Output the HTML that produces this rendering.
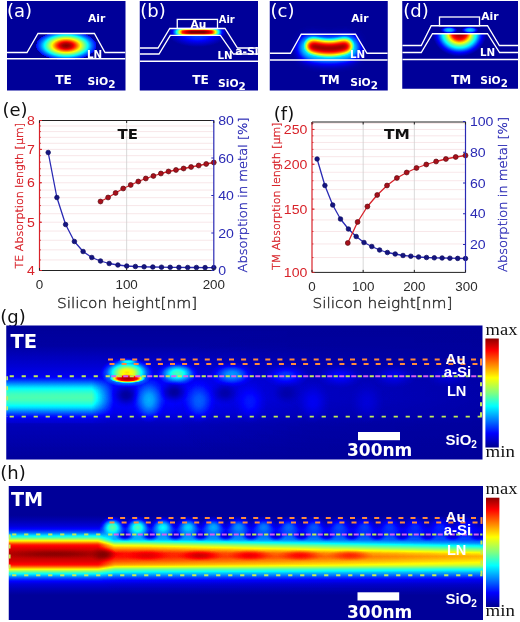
<!DOCTYPE html>
<html lang="en"><head><meta charset="utf-8"><title>Figure</title>
<style>
html,body{margin:0;padding:0;background:#fff;}
body{width:520px;height:622px;overflow:hidden;}
svg{display:block;}
</style></head><body>
<svg width="520" height="622" viewBox="0 0 520 622">
<defs>
<filter id="jet" color-interpolation-filters="sRGB" filterUnits="userSpaceOnUse" x="0" y="0" width="520" height="622">
<feComponentTransfer>
<feFuncR type="table" tableValues="0 0 0 0 0.5 1 1 1 0.5"/>
<feFuncG type="table" tableValues="0 0 0.5 1 1 1 0.5 0 0"/>
<feFuncB type="table" tableValues="0.6 1 1 1 0.5 0 0 0 0"/>
</feComponentTransfer>
</filter>
<clipPath id="cpa"><rect x="7" y="1" width="118.5" height="89.5"/></clipPath>
<clipPath id="cpa2"><path d="M0 52.5 H27 L38 33.5 H94.4 L105 52.5 H130 V100 H0 Z"/></clipPath>
<radialGradient id="ga" gradientUnits="userSpaceOnUse" cx="0" cy="0" r="1" gradientTransform="translate(66.2 45.6) scale(30 14.6)" ><stop offset="0" stop-color="rgb(255,255,255)" stop-opacity="1"/><stop offset="0.12" stop-color="rgb(247,247,247)" stop-opacity="1"/><stop offset="0.22" stop-color="rgb(232,232,232)" stop-opacity="1"/><stop offset="0.33" stop-color="rgb(204,204,204)" stop-opacity="1"/><stop offset="0.48" stop-color="rgb(159,159,159)" stop-opacity="1"/><stop offset="0.6" stop-color="rgb(128,128,128)" stop-opacity="1"/><stop offset="0.72" stop-color="rgb(96,96,96)" stop-opacity="1"/><stop offset="0.855" stop-color="rgb(61,61,61)" stop-opacity="1"/><stop offset="1" stop-color="rgb(33,33,33)" stop-opacity="1"/><stop offset="1.15" stop-color="rgb(13,13,13)" stop-opacity="1"/><stop offset="1.35" stop-color="rgb(0,0,0)" stop-opacity="1"/></radialGradient>
<clipPath id="cpb"><rect x="139.75" y="1" width="118.25" height="89.5"/></clipPath>
<linearGradient id="gb" gradientUnits="userSpaceOnUse" x1="169" y1="0" x2="226" y2="0"><stop offset="0" stop-color="rgb(0,0,0)" stop-opacity="1"/><stop offset="0.0614035" stop-color="rgb(31,31,31)" stop-opacity="1"/><stop offset="0.114035" stop-color="rgb(76,76,76)" stop-opacity="1"/><stop offset="0.166667" stop-color="rgb(133,133,133)" stop-opacity="1"/><stop offset="0.201754" stop-color="rgb(173,173,173)" stop-opacity="1"/><stop offset="0.236842" stop-color="rgb(214,214,214)" stop-opacity="1"/><stop offset="0.298246" stop-color="rgb(237,237,237)" stop-opacity="1"/><stop offset="0.385965" stop-color="rgb(255,255,255)" stop-opacity="1"/><stop offset="0.614035" stop-color="rgb(255,255,255)" stop-opacity="1"/><stop offset="0.692982" stop-color="rgb(240,240,240)" stop-opacity="1"/><stop offset="0.754386" stop-color="rgb(219,219,219)" stop-opacity="1"/><stop offset="0.798246" stop-color="rgb(178,178,178)" stop-opacity="1"/><stop offset="0.833333" stop-color="rgb(140,140,140)" stop-opacity="1"/><stop offset="0.877193" stop-color="rgb(89,89,89)" stop-opacity="1"/><stop offset="0.929825" stop-color="rgb(36,36,36)" stop-opacity="1"/><stop offset="1" stop-color="rgb(0,0,0)" stop-opacity="1"/></linearGradient>
<radialGradient id="gb2" gradientUnits="userSpaceOnUse" cx="0" cy="0" r="1" gradientTransform="translate(197.5 35) scale(29 12)" ><stop offset="0" stop-color="rgb(51,51,51)" stop-opacity="1"/><stop offset="0.4" stop-color="rgb(38,38,38)" stop-opacity="1"/><stop offset="0.75" stop-color="rgb(15,15,15)" stop-opacity="1"/><stop offset="1" stop-color="rgb(0,0,0)" stop-opacity="1"/></radialGradient>
<filter id="blb" color-interpolation-filters="sRGB" filterUnits="userSpaceOnUse" x="130" y="0" width="140" height="100"><feGaussianBlur stdDeviation="0.6 0.9"/></filter>
<clipPath id="cpc"><rect x="269.75" y="1" width="118" height="89.5"/></clipPath>
<filter id="blc" color-interpolation-filters="sRGB" filterUnits="userSpaceOnUse" x="260" y="0" width="140" height="100"><feGaussianBlur stdDeviation="3.6"/></filter>
<clipPath id="cpc2"><path d="M260 53.25 H290.5 L301.25 34.25 H355.5 L367 53.25 H400 V100 H260 Z"/></clipPath>
<filter id="blc0" color-interpolation-filters="sRGB" filterUnits="userSpaceOnUse" x="260" y="0" width="140" height="100"><feGaussianBlur stdDeviation="5"/></filter>
<filter id="blc2" color-interpolation-filters="sRGB" filterUnits="userSpaceOnUse" x="260" y="0" width="140" height="100"><feGaussianBlur stdDeviation="2.2"/></filter>
<clipPath id="cpd"><rect x="402.25" y="1" width="115.75" height="87.75"/></clipPath>
<clipPath id="cpd2"><rect x="402.25" y="34" width="115.75" height="60"/></clipPath>
<radialGradient id="gd" gradientUnits="userSpaceOnUse" cx="0" cy="0" r="1" gradientTransform="translate(459.5 33.5) scale(27 23)" ><stop offset="0" stop-color="rgb(247,247,247)" stop-opacity="1"/><stop offset="0.1" stop-color="rgb(242,242,242)" stop-opacity="1"/><stop offset="0.2" stop-color="rgb(232,232,232)" stop-opacity="1"/><stop offset="0.28" stop-color="rgb(217,217,217)" stop-opacity="1"/><stop offset="0.37" stop-color="rgb(178,178,178)" stop-opacity="1"/><stop offset="0.45" stop-color="rgb(148,148,148)" stop-opacity="1"/><stop offset="0.55" stop-color="rgb(115,115,115)" stop-opacity="1"/><stop offset="0.66" stop-color="rgb(84,84,84)" stop-opacity="1"/><stop offset="0.78" stop-color="rgb(46,46,46)" stop-opacity="1"/><stop offset="0.9" stop-color="rgb(18,18,18)" stop-opacity="1"/><stop offset="1" stop-color="rgb(0,0,0)" stop-opacity="1"/></radialGradient>
<radialGradient id="gds" gradientUnits="userSpaceOnUse" cx="0" cy="0" r="1" gradientTransform="translate(0 0) scale(8.5 3.6)" ><stop offset="0" stop-color="rgb(87,87,87)" stop-opacity="1"/><stop offset="0.5" stop-color="rgb(64,64,64)" stop-opacity="1"/><stop offset="1" stop-color="rgb(0,0,0)" stop-opacity="1"/></radialGradient>
<clipPath id="cpg"><rect x="6.25" y="325.5" width="476.25" height="134"/></clipPath>
<linearGradient id="gg0" gradientUnits="userSpaceOnUse" x1="0" y1="325.5" x2="0" y2="459.5"><stop offset="0" stop-color="rgb(0,0,0)" stop-opacity="1"/><stop offset="0.15" stop-color="rgb(3,3,3)" stop-opacity="1"/><stop offset="0.3" stop-color="rgb(18,18,18)" stop-opacity="1"/><stop offset="0.42" stop-color="rgb(31,31,31)" stop-opacity="1"/><stop offset="0.55" stop-color="rgb(33,33,33)" stop-opacity="1"/><stop offset="0.65" stop-color="rgb(26,26,26)" stop-opacity="1"/><stop offset="0.74" stop-color="rgb(10,10,10)" stop-opacity="1"/><stop offset="1" stop-color="rgb(1,1,1)" stop-opacity="1"/></linearGradient>
<linearGradient id="ggin" gradientUnits="userSpaceOnUse" x1="0" y1="371.3" x2="0" y2="423.3"><stop offset="0" stop-color="rgb(17,17,17)" stop-opacity="1"/><stop offset="0.075" stop-color="rgb(23,23,23)" stop-opacity="1"/><stop offset="0.15" stop-color="rgb(39,39,39)" stop-opacity="1"/><stop offset="0.225" stop-color="rgb(62,62,62)" stop-opacity="1"/><stop offset="0.3" stop-color="rgb(87,87,87)" stop-opacity="1"/><stop offset="0.375" stop-color="rgb(104,104,104)" stop-opacity="1"/><stop offset="0.44" stop-color="rgb(112,112,112)" stop-opacity="1"/><stop offset="0.5" stop-color="rgb(115,115,115)" stop-opacity="1"/><stop offset="0.56" stop-color="rgb(112,112,112)" stop-opacity="1"/><stop offset="0.625" stop-color="rgb(104,104,104)" stop-opacity="1"/><stop offset="0.7" stop-color="rgb(87,87,87)" stop-opacity="1"/><stop offset="0.775" stop-color="rgb(62,62,62)" stop-opacity="1"/><stop offset="0.85" stop-color="rgb(39,39,39)" stop-opacity="1"/><stop offset="0.925" stop-color="rgb(23,23,23)" stop-opacity="1"/><stop offset="1" stop-color="rgb(17,17,17)" stop-opacity="1"/></linearGradient>
<linearGradient id="ggm" gradientUnits="userSpaceOnUse" x1="92" y1="0" x2="114" y2="0"><stop offset="0" stop-color="#fff"/><stop offset="1" stop-color="#000"/></linearGradient>
<linearGradient id="ggat" gradientUnits="userSpaceOnUse" x1="170" y1="0" x2="483" y2="0"><stop offset="0" stop-color="#000" stop-opacity="0"/><stop offset="0.45" stop-color="#000" stop-opacity="0.6"/><stop offset="1" stop-color="#000" stop-opacity="0.85"/></linearGradient>
<mask id="mg" maskUnits="userSpaceOnUse" x="0" y="300" width="520" height="200"><rect x="0" y="300" width="520" height="200" fill="url(#ggm)"/></mask>
<radialGradient id="gk1" gradientUnits="userSpaceOnUse" cx="0" cy="0" r="1" gradientTransform="translate(0 0) scale(15 13)" ><stop offset="0" stop-color="rgb(0,0,0)" stop-opacity="1"/><stop offset="0.25" stop-color="rgb(0,0,0)" stop-opacity="0.88"/><stop offset="0.5" stop-color="rgb(0,0,0)" stop-opacity="0.55"/><stop offset="0.75" stop-color="rgb(0,0,0)" stop-opacity="0.2"/><stop offset="1" stop-color="rgb(0,0,0)" stop-opacity="0"/></radialGradient>
<radialGradient id="gk2" gradientUnits="userSpaceOnUse" cx="0" cy="0" r="1" gradientTransform="translate(0 0) scale(15 12)" ><stop offset="0" stop-color="rgb(0,0,0)" stop-opacity="1"/><stop offset="0.25" stop-color="rgb(0,0,0)" stop-opacity="0.88"/><stop offset="0.5" stop-color="rgb(0,0,0)" stop-opacity="0.55"/><stop offset="0.75" stop-color="rgb(0,0,0)" stop-opacity="0.2"/><stop offset="1" stop-color="rgb(0,0,0)" stop-opacity="0"/></radialGradient>
<radialGradient id="gk3" gradientUnits="userSpaceOnUse" cx="0" cy="0" r="1" gradientTransform="translate(0 0) scale(15 12)" ><stop offset="0" stop-color="rgb(5,5,5)" stop-opacity="1"/><stop offset="0.25" stop-color="rgb(5,5,5)" stop-opacity="0.88"/><stop offset="0.5" stop-color="rgb(5,5,5)" stop-opacity="0.55"/><stop offset="0.75" stop-color="rgb(5,5,5)" stop-opacity="0.2"/><stop offset="1" stop-color="rgb(5,5,5)" stop-opacity="0"/></radialGradient>
<radialGradient id="gk4" gradientUnits="userSpaceOnUse" cx="0" cy="0" r="1" gradientTransform="translate(0 0) scale(15 12)" ><stop offset="0" stop-color="rgb(5,5,5)" stop-opacity="1"/><stop offset="0.25" stop-color="rgb(5,5,5)" stop-opacity="0.88"/><stop offset="0.5" stop-color="rgb(5,5,5)" stop-opacity="0.55"/><stop offset="0.75" stop-color="rgb(5,5,5)" stop-opacity="0.2"/><stop offset="1" stop-color="rgb(5,5,5)" stop-opacity="0"/></radialGradient>
<radialGradient id="gl1" gradientUnits="userSpaceOnUse" cx="0" cy="0" r="1" gradientTransform="translate(0 0) scale(17 23)" ><stop offset="0" stop-color="rgb(76,76,76)" stop-opacity="1"/><stop offset="0.25" stop-color="rgb(76,76,76)" stop-opacity="0.88"/><stop offset="0.5" stop-color="rgb(76,76,76)" stop-opacity="0.55"/><stop offset="0.75" stop-color="rgb(76,76,76)" stop-opacity="0.2"/><stop offset="1" stop-color="rgb(76,76,76)" stop-opacity="0"/></radialGradient>
<radialGradient id="gl2" gradientUnits="userSpaceOnUse" cx="0" cy="0" r="1" gradientTransform="translate(0 0) scale(17 22)" ><stop offset="0" stop-color="rgb(56,56,56)" stop-opacity="1"/><stop offset="0.25" stop-color="rgb(56,56,56)" stop-opacity="0.88"/><stop offset="0.5" stop-color="rgb(56,56,56)" stop-opacity="0.55"/><stop offset="0.75" stop-color="rgb(56,56,56)" stop-opacity="0.2"/><stop offset="1" stop-color="rgb(56,56,56)" stop-opacity="0"/></radialGradient>
<radialGradient id="gl3" gradientUnits="userSpaceOnUse" cx="0" cy="0" r="1" gradientTransform="translate(0 0) scale(17 21)" ><stop offset="0" stop-color="rgb(38,38,38)" stop-opacity="1"/><stop offset="0.25" stop-color="rgb(38,38,38)" stop-opacity="0.88"/><stop offset="0.5" stop-color="rgb(38,38,38)" stop-opacity="0.55"/><stop offset="0.75" stop-color="rgb(38,38,38)" stop-opacity="0.2"/><stop offset="1" stop-color="rgb(38,38,38)" stop-opacity="0"/></radialGradient>
<radialGradient id="gl4" gradientUnits="userSpaceOnUse" cx="0" cy="0" r="1" gradientTransform="translate(0 0) scale(17 21)" ><stop offset="0" stop-color="rgb(28,28,28)" stop-opacity="1"/><stop offset="0.25" stop-color="rgb(28,28,28)" stop-opacity="0.88"/><stop offset="0.5" stop-color="rgb(28,28,28)" stop-opacity="0.55"/><stop offset="0.75" stop-color="rgb(28,28,28)" stop-opacity="0.2"/><stop offset="1" stop-color="rgb(28,28,28)" stop-opacity="0"/></radialGradient>
<radialGradient id="gl5" gradientUnits="userSpaceOnUse" cx="0" cy="0" r="1" gradientTransform="translate(0 0) scale(17 21)" ><stop offset="0" stop-color="rgb(20,20,20)" stop-opacity="1"/><stop offset="0.25" stop-color="rgb(20,20,20)" stop-opacity="0.88"/><stop offset="0.5" stop-color="rgb(20,20,20)" stop-opacity="0.55"/><stop offset="0.75" stop-color="rgb(20,20,20)" stop-opacity="0.2"/><stop offset="1" stop-color="rgb(20,20,20)" stop-opacity="0"/></radialGradient>
<radialGradient id="gh1a" gradientUnits="userSpaceOnUse" cx="0" cy="0" r="1" gradientTransform="translate(0 0) scale(27 15)" ><stop offset="0" stop-color="rgb(168,168,168)" stop-opacity="1"/><stop offset="0.25" stop-color="rgb(168,168,168)" stop-opacity="0.88"/><stop offset="0.5" stop-color="rgb(168,168,168)" stop-opacity="0.55"/><stop offset="0.75" stop-color="rgb(168,168,168)" stop-opacity="0.2"/><stop offset="1" stop-color="rgb(168,168,168)" stop-opacity="0"/></radialGradient>
<radialGradient id="gh1c" gradientUnits="userSpaceOnUse" cx="0" cy="0" r="1" gradientTransform="translate(0 0) scale(11 2.6)" ><stop offset="0" stop-color="rgb(107,107,107)" stop-opacity="1"/><stop offset="0.25" stop-color="rgb(107,107,107)" stop-opacity="0.88"/><stop offset="0.5" stop-color="rgb(107,107,107)" stop-opacity="0.55"/><stop offset="0.75" stop-color="rgb(107,107,107)" stop-opacity="0.2"/><stop offset="1" stop-color="rgb(107,107,107)" stop-opacity="0"/></radialGradient>
<radialGradient id="gh1b" gradientUnits="userSpaceOnUse" cx="0" cy="0" r="1" gradientTransform="translate(0 0) scale(18 4.6)" ><stop offset="0" stop-color="rgb(245,245,245)" stop-opacity="1"/><stop offset="0.3" stop-color="rgb(237,237,237)" stop-opacity="1"/><stop offset="0.55" stop-color="rgb(227,227,227)" stop-opacity="0.95"/><stop offset="0.75" stop-color="rgb(199,199,199)" stop-opacity="0.6"/><stop offset="1" stop-color="rgb(168,168,168)" stop-opacity="0"/></radialGradient>
<radialGradient id="gh2" gradientUnits="userSpaceOnUse" cx="0" cy="0" r="1" gradientTransform="translate(0 0) scale(21 12)" ><stop offset="0" stop-color="rgb(115,115,115)" stop-opacity="1"/><stop offset="0.25" stop-color="rgb(115,115,115)" stop-opacity="0.88"/><stop offset="0.5" stop-color="rgb(115,115,115)" stop-opacity="0.55"/><stop offset="0.75" stop-color="rgb(115,115,115)" stop-opacity="0.2"/><stop offset="1" stop-color="rgb(115,115,115)" stop-opacity="0"/></radialGradient>
<radialGradient id="gh3" gradientUnits="userSpaceOnUse" cx="0" cy="0" r="1" gradientTransform="translate(0 0) scale(23 12.5)" ><stop offset="0" stop-color="rgb(71,71,71)" stop-opacity="1"/><stop offset="0.25" stop-color="rgb(71,71,71)" stop-opacity="0.88"/><stop offset="0.5" stop-color="rgb(71,71,71)" stop-opacity="0.55"/><stop offset="0.75" stop-color="rgb(71,71,71)" stop-opacity="0.2"/><stop offset="1" stop-color="rgb(71,71,71)" stop-opacity="0"/></radialGradient>
<radialGradient id="gh4" gradientUnits="userSpaceOnUse" cx="0" cy="0" r="1" gradientTransform="translate(0 0) scale(23 12)" ><stop offset="0" stop-color="rgb(46,46,46)" stop-opacity="1"/><stop offset="0.25" stop-color="rgb(46,46,46)" stop-opacity="0.88"/><stop offset="0.5" stop-color="rgb(46,46,46)" stop-opacity="0.55"/><stop offset="0.75" stop-color="rgb(46,46,46)" stop-opacity="0.2"/><stop offset="1" stop-color="rgb(46,46,46)" stop-opacity="0"/></radialGradient>
<radialGradient id="gh5" gradientUnits="userSpaceOnUse" cx="0" cy="0" r="1" gradientTransform="translate(0 0) scale(23 12)" ><stop offset="0" stop-color="rgb(33,33,33)" stop-opacity="1"/><stop offset="0.25" stop-color="rgb(33,33,33)" stop-opacity="0.88"/><stop offset="0.5" stop-color="rgb(33,33,33)" stop-opacity="0.55"/><stop offset="0.75" stop-color="rgb(33,33,33)" stop-opacity="0.2"/><stop offset="1" stop-color="rgb(33,33,33)" stop-opacity="0"/></radialGradient>
<radialGradient id="gh6" gradientUnits="userSpaceOnUse" cx="0" cy="0" r="1" gradientTransform="translate(0 0) scale(23 12)" ><stop offset="0" stop-color="rgb(26,26,26)" stop-opacity="1"/><stop offset="0.25" stop-color="rgb(26,26,26)" stop-opacity="0.88"/><stop offset="0.5" stop-color="rgb(26,26,26)" stop-opacity="0.55"/><stop offset="0.75" stop-color="rgb(26,26,26)" stop-opacity="0.2"/><stop offset="1" stop-color="rgb(26,26,26)" stop-opacity="0"/></radialGradient>
<radialGradient id="gh7" gradientUnits="userSpaceOnUse" cx="0" cy="0" r="1" gradientTransform="translate(0 0) scale(23 12)" ><stop offset="0" stop-color="rgb(20,20,20)" stop-opacity="1"/><stop offset="0.25" stop-color="rgb(20,20,20)" stop-opacity="0.88"/><stop offset="0.5" stop-color="rgb(20,20,20)" stop-opacity="0.55"/><stop offset="0.75" stop-color="rgb(20,20,20)" stop-opacity="0.2"/><stop offset="1" stop-color="rgb(20,20,20)" stop-opacity="0"/></radialGradient>
<linearGradient id="cb338" x1="0" y1="0" x2="0" y2="1"><stop offset="0" stop-color="#8f0000"/><stop offset="0.11" stop-color="#ff0000"/><stop offset="0.36" stop-color="#ffff00"/><stop offset="0.5" stop-color="#80ff80"/><stop offset="0.62" stop-color="#00ffff"/><stop offset="0.87" stop-color="#0000ff"/><stop offset="1" stop-color="#00008f"/></linearGradient>
<clipPath id="cph"><rect x="8.75" y="486" width="474.25" height="134"/></clipPath>
<linearGradient id="hhin" gradientUnits="userSpaceOnUse" x1="0" y1="515" x2="0" y2="595"><stop offset="0" stop-color="rgb(0,0,0)" stop-opacity="1"/><stop offset="0.075" stop-color="rgb(9,9,9)" stop-opacity="1"/><stop offset="0.1375" stop-color="rgb(20,20,20)" stop-opacity="1"/><stop offset="0.1875" stop-color="rgb(38,38,38)" stop-opacity="1"/><stop offset="0.225" stop-color="rgb(61,61,61)" stop-opacity="1"/><stop offset="0.25" stop-color="rgb(84,84,84)" stop-opacity="1"/><stop offset="0.275" stop-color="rgb(105,105,105)" stop-opacity="1"/><stop offset="0.3" stop-color="rgb(133,133,133)" stop-opacity="1"/><stop offset="0.325" stop-color="rgb(163,163,163)" stop-opacity="1"/><stop offset="0.35" stop-color="rgb(194,194,194)" stop-opacity="1"/><stop offset="0.375" stop-color="rgb(219,219,219)" stop-opacity="1"/><stop offset="0.4125" stop-color="rgb(230,230,230)" stop-opacity="1"/><stop offset="0.45" stop-color="rgb(236,236,236)" stop-opacity="1"/><stop offset="0.5" stop-color="rgb(237,237,237)" stop-opacity="1"/><stop offset="0.55" stop-color="rgb(236,236,236)" stop-opacity="1"/><stop offset="0.5875" stop-color="rgb(230,230,230)" stop-opacity="1"/><stop offset="0.625" stop-color="rgb(219,219,219)" stop-opacity="1"/><stop offset="0.65" stop-color="rgb(194,194,194)" stop-opacity="1"/><stop offset="0.675" stop-color="rgb(163,163,163)" stop-opacity="1"/><stop offset="0.7" stop-color="rgb(133,133,133)" stop-opacity="1"/><stop offset="0.725" stop-color="rgb(105,105,105)" stop-opacity="1"/><stop offset="0.75" stop-color="rgb(84,84,84)" stop-opacity="1"/><stop offset="0.775" stop-color="rgb(61,61,61)" stop-opacity="1"/><stop offset="0.8125" stop-color="rgb(38,38,38)" stop-opacity="1"/><stop offset="0.8625" stop-color="rgb(20,20,20)" stop-opacity="1"/><stop offset="0.925" stop-color="rgb(9,9,9)" stop-opacity="1"/><stop offset="1" stop-color="rgb(0,0,0)" stop-opacity="1"/></linearGradient>
<linearGradient id="hhat" gradientUnits="userSpaceOnUse" x1="100" y1="0" x2="483" y2="0"><stop offset="0" stop-color="#000" stop-opacity="0"/><stop offset="0.04" stop-color="#000" stop-opacity="0.07"/><stop offset="0.5" stop-color="#000" stop-opacity="0.15"/><stop offset="1" stop-color="#000" stop-opacity="0.25"/></linearGradient>
<linearGradient id="hhtv" gradientUnits="userSpaceOnUse" x1="0" y1="529" x2="0" y2="553"><stop offset="0" stop-color="#000" stop-opacity="0"/><stop offset="0.45" stop-color="#000" stop-opacity="0.4"/><stop offset="1" stop-color="#000" stop-opacity="0"/></linearGradient>
<linearGradient id="hhtm" gradientUnits="userSpaceOnUse" x1="98" y1="0" x2="114" y2="0"><stop offset="0" stop-color="#000"/><stop offset="1" stop-color="#fff"/></linearGradient>
<mask id="mh" maskUnits="userSpaceOnUse" x="0" y="480" width="520" height="142"><rect x="0" y="480" width="520" height="142" fill="url(#hhtm)"/></mask>
<linearGradient id="hhtv2" gradientUnits="userSpaceOnUse" x1="0" y1="530" x2="0" y2="556"><stop offset="0" stop-color="#000" stop-opacity="0"/><stop offset="0.5" stop-color="#000" stop-opacity="0.36"/><stop offset="1" stop-color="#000" stop-opacity="0"/></linearGradient>
<linearGradient id="hhtm2" gradientUnits="userSpaceOnUse" x1="150" y1="0" x2="480" y2="0"><stop offset="0" stop-color="#000"/><stop offset="1" stop-color="#fff"/></linearGradient>
<mask id="mh2" maskUnits="userSpaceOnUse" x="0" y="480" width="520" height="142"><rect x="0" y="480" width="520" height="142" fill="url(#hhtm2)"/></mask>
<linearGradient id="hhbv" gradientUnits="userSpaceOnUse" x1="0" y1="557" x2="0" y2="581"><stop offset="0" stop-color="#000" stop-opacity="0"/><stop offset="0.5" stop-color="#000" stop-opacity="0.16"/><stop offset="1" stop-color="#000" stop-opacity="0"/></linearGradient>
<radialGradient id="hk1" gradientUnits="userSpaceOnUse" cx="0" cy="0" r="1" gradientTransform="translate(0 0) scale(70 5.5)" ><stop offset="0" stop-color="rgb(252,252,252)" stop-opacity="1"/><stop offset="0.25" stop-color="rgb(252,252,252)" stop-opacity="0.88"/><stop offset="0.5" stop-color="rgb(252,252,252)" stop-opacity="0.55"/><stop offset="0.75" stop-color="rgb(252,252,252)" stop-opacity="0.2"/><stop offset="1" stop-color="rgb(252,252,252)" stop-opacity="0"/></radialGradient>
<radialGradient id="hk0" gradientUnits="userSpaceOnUse" cx="0" cy="0" r="1" gradientTransform="translate(0 0) scale(14 7.5)" ><stop offset="0" stop-color="rgb(255,255,255)" stop-opacity="1"/><stop offset="0.25" stop-color="rgb(255,255,255)" stop-opacity="0.88"/><stop offset="0.5" stop-color="rgb(255,255,255)" stop-opacity="0.55"/><stop offset="0.75" stop-color="rgb(255,255,255)" stop-opacity="0.2"/><stop offset="1" stop-color="rgb(255,255,255)" stop-opacity="0"/></radialGradient>
<radialGradient id="hr0" gradientUnits="userSpaceOnUse" cx="0" cy="0" r="1" gradientTransform="translate(0 0) scale(24 6)" ><stop offset="0" stop-color="rgb(230,230,230)" stop-opacity="1"/><stop offset="0.25" stop-color="rgb(230,230,230)" stop-opacity="0.88"/><stop offset="0.5" stop-color="rgb(230,230,230)" stop-opacity="0.55"/><stop offset="0.75" stop-color="rgb(230,230,230)" stop-opacity="0.2"/><stop offset="1" stop-color="rgb(230,230,230)" stop-opacity="0"/></radialGradient>
<radialGradient id="hr1" gradientUnits="userSpaceOnUse" cx="0" cy="0" r="1" gradientTransform="translate(0 0) scale(24 6)" ><stop offset="0" stop-color="rgb(235,235,235)" stop-opacity="1"/><stop offset="0.25" stop-color="rgb(235,235,235)" stop-opacity="0.88"/><stop offset="0.5" stop-color="rgb(235,235,235)" stop-opacity="0.55"/><stop offset="0.75" stop-color="rgb(235,235,235)" stop-opacity="0.2"/><stop offset="1" stop-color="rgb(235,235,235)" stop-opacity="0"/></radialGradient>
<radialGradient id="hr2" gradientUnits="userSpaceOnUse" cx="0" cy="0" r="1" gradientTransform="translate(0 0) scale(24 6)" ><stop offset="0" stop-color="rgb(227,227,227)" stop-opacity="1"/><stop offset="0.25" stop-color="rgb(227,227,227)" stop-opacity="0.88"/><stop offset="0.5" stop-color="rgb(227,227,227)" stop-opacity="0.55"/><stop offset="0.75" stop-color="rgb(227,227,227)" stop-opacity="0.2"/><stop offset="1" stop-color="rgb(227,227,227)" stop-opacity="0"/></radialGradient>
<radialGradient id="hr3" gradientUnits="userSpaceOnUse" cx="0" cy="0" r="1" gradientTransform="translate(0 0) scale(24 6)" ><stop offset="0" stop-color="rgb(222,222,222)" stop-opacity="1"/><stop offset="0.25" stop-color="rgb(222,222,222)" stop-opacity="0.88"/><stop offset="0.5" stop-color="rgb(222,222,222)" stop-opacity="0.55"/><stop offset="0.75" stop-color="rgb(222,222,222)" stop-opacity="0.2"/><stop offset="1" stop-color="rgb(222,222,222)" stop-opacity="0"/></radialGradient>
<radialGradient id="hr4" gradientUnits="userSpaceOnUse" cx="0" cy="0" r="1" gradientTransform="translate(0 0) scale(24 6)" ><stop offset="0" stop-color="rgb(214,214,214)" stop-opacity="1"/><stop offset="0.25" stop-color="rgb(214,214,214)" stop-opacity="0.88"/><stop offset="0.5" stop-color="rgb(214,214,214)" stop-opacity="0.55"/><stop offset="0.75" stop-color="rgb(214,214,214)" stop-opacity="0.2"/><stop offset="1" stop-color="rgb(214,214,214)" stop-opacity="0"/></radialGradient>
<radialGradient id="hd0" gradientUnits="userSpaceOnUse" cx="0" cy="0" r="1" gradientTransform="translate(0 0) scale(10 6)" ><stop offset="0" stop-color="rgb(13,13,13)" stop-opacity="1"/><stop offset="0.25" stop-color="rgb(13,13,13)" stop-opacity="0.88"/><stop offset="0.5" stop-color="rgb(13,13,13)" stop-opacity="0.55"/><stop offset="0.75" stop-color="rgb(13,13,13)" stop-opacity="0.2"/><stop offset="1" stop-color="rgb(13,13,13)" stop-opacity="0"/></radialGradient>
<radialGradient id="hd1" gradientUnits="userSpaceOnUse" cx="0" cy="0" r="1" gradientTransform="translate(0 0) scale(10 6)" ><stop offset="0" stop-color="rgb(13,13,13)" stop-opacity="1"/><stop offset="0.25" stop-color="rgb(13,13,13)" stop-opacity="0.88"/><stop offset="0.5" stop-color="rgb(13,13,13)" stop-opacity="0.55"/><stop offset="0.75" stop-color="rgb(13,13,13)" stop-opacity="0.2"/><stop offset="1" stop-color="rgb(13,13,13)" stop-opacity="0"/></radialGradient>
<radialGradient id="hd2" gradientUnits="userSpaceOnUse" cx="0" cy="0" r="1" gradientTransform="translate(0 0) scale(10 6)" ><stop offset="0" stop-color="rgb(13,13,13)" stop-opacity="1"/><stop offset="0.25" stop-color="rgb(13,13,13)" stop-opacity="0.88"/><stop offset="0.5" stop-color="rgb(13,13,13)" stop-opacity="0.55"/><stop offset="0.75" stop-color="rgb(13,13,13)" stop-opacity="0.2"/><stop offset="1" stop-color="rgb(13,13,13)" stop-opacity="0"/></radialGradient>
<radialGradient id="hd3" gradientUnits="userSpaceOnUse" cx="0" cy="0" r="1" gradientTransform="translate(0 0) scale(10 6)" ><stop offset="0" stop-color="rgb(13,13,13)" stop-opacity="1"/><stop offset="0.25" stop-color="rgb(13,13,13)" stop-opacity="0.88"/><stop offset="0.5" stop-color="rgb(13,13,13)" stop-opacity="0.55"/><stop offset="0.75" stop-color="rgb(13,13,13)" stop-opacity="0.2"/><stop offset="1" stop-color="rgb(13,13,13)" stop-opacity="0"/></radialGradient>
<radialGradient id="hd4" gradientUnits="userSpaceOnUse" cx="0" cy="0" r="1" gradientTransform="translate(0 0) scale(10 6)" ><stop offset="0" stop-color="rgb(13,13,13)" stop-opacity="1"/><stop offset="0.25" stop-color="rgb(13,13,13)" stop-opacity="0.88"/><stop offset="0.5" stop-color="rgb(13,13,13)" stop-opacity="0.55"/><stop offset="0.75" stop-color="rgb(13,13,13)" stop-opacity="0.2"/><stop offset="1" stop-color="rgb(13,13,13)" stop-opacity="0"/></radialGradient>
<radialGradient id="hd5" gradientUnits="userSpaceOnUse" cx="0" cy="0" r="1" gradientTransform="translate(0 0) scale(10 6)" ><stop offset="0" stop-color="rgb(13,13,13)" stop-opacity="1"/><stop offset="0.25" stop-color="rgb(13,13,13)" stop-opacity="0.88"/><stop offset="0.5" stop-color="rgb(13,13,13)" stop-opacity="0.55"/><stop offset="0.75" stop-color="rgb(13,13,13)" stop-opacity="0.2"/><stop offset="1" stop-color="rgb(13,13,13)" stop-opacity="0"/></radialGradient>
<radialGradient id="hd6" gradientUnits="userSpaceOnUse" cx="0" cy="0" r="1" gradientTransform="translate(0 0) scale(10 6)" ><stop offset="0" stop-color="rgb(13,13,13)" stop-opacity="1"/><stop offset="0.25" stop-color="rgb(13,13,13)" stop-opacity="0.88"/><stop offset="0.5" stop-color="rgb(13,13,13)" stop-opacity="0.55"/><stop offset="0.75" stop-color="rgb(13,13,13)" stop-opacity="0.2"/><stop offset="1" stop-color="rgb(13,13,13)" stop-opacity="0"/></radialGradient>
<radialGradient id="hd7" gradientUnits="userSpaceOnUse" cx="0" cy="0" r="1" gradientTransform="translate(0 0) scale(10 6)" ><stop offset="0" stop-color="rgb(13,13,13)" stop-opacity="1"/><stop offset="0.25" stop-color="rgb(13,13,13)" stop-opacity="0.88"/><stop offset="0.5" stop-color="rgb(13,13,13)" stop-opacity="0.55"/><stop offset="0.75" stop-color="rgb(13,13,13)" stop-opacity="0.2"/><stop offset="1" stop-color="rgb(13,13,13)" stop-opacity="0"/></radialGradient>
<radialGradient id="hd8" gradientUnits="userSpaceOnUse" cx="0" cy="0" r="1" gradientTransform="translate(0 0) scale(10 6)" ><stop offset="0" stop-color="rgb(13,13,13)" stop-opacity="1"/><stop offset="0.25" stop-color="rgb(13,13,13)" stop-opacity="0.88"/><stop offset="0.5" stop-color="rgb(13,13,13)" stop-opacity="0.55"/><stop offset="0.75" stop-color="rgb(13,13,13)" stop-opacity="0.2"/><stop offset="1" stop-color="rgb(13,13,13)" stop-opacity="0"/></radialGradient>
<radialGradient id="hd9" gradientUnits="userSpaceOnUse" cx="0" cy="0" r="1" gradientTransform="translate(0 0) scale(10 6)" ><stop offset="0" stop-color="rgb(13,13,13)" stop-opacity="1"/><stop offset="0.25" stop-color="rgb(13,13,13)" stop-opacity="0.88"/><stop offset="0.5" stop-color="rgb(13,13,13)" stop-opacity="0.55"/><stop offset="0.75" stop-color="rgb(13,13,13)" stop-opacity="0.2"/><stop offset="1" stop-color="rgb(13,13,13)" stop-opacity="0"/></radialGradient>
<radialGradient id="hd10" gradientUnits="userSpaceOnUse" cx="0" cy="0" r="1" gradientTransform="translate(0 0) scale(10 6)" ><stop offset="0" stop-color="rgb(13,13,13)" stop-opacity="1"/><stop offset="0.25" stop-color="rgb(13,13,13)" stop-opacity="0.88"/><stop offset="0.5" stop-color="rgb(13,13,13)" stop-opacity="0.55"/><stop offset="0.75" stop-color="rgb(13,13,13)" stop-opacity="0.2"/><stop offset="1" stop-color="rgb(13,13,13)" stop-opacity="0"/></radialGradient>
<radialGradient id="hd11" gradientUnits="userSpaceOnUse" cx="0" cy="0" r="1" gradientTransform="translate(0 0) scale(10 6)" ><stop offset="0" stop-color="rgb(13,13,13)" stop-opacity="1"/><stop offset="0.25" stop-color="rgb(13,13,13)" stop-opacity="0.88"/><stop offset="0.5" stop-color="rgb(13,13,13)" stop-opacity="0.55"/><stop offset="0.75" stop-color="rgb(13,13,13)" stop-opacity="0.2"/><stop offset="1" stop-color="rgb(13,13,13)" stop-opacity="0"/></radialGradient>
<radialGradient id="hd12" gradientUnits="userSpaceOnUse" cx="0" cy="0" r="1" gradientTransform="translate(0 0) scale(10 6)" ><stop offset="0" stop-color="rgb(13,13,13)" stop-opacity="1"/><stop offset="0.25" stop-color="rgb(13,13,13)" stop-opacity="0.88"/><stop offset="0.5" stop-color="rgb(13,13,13)" stop-opacity="0.55"/><stop offset="0.75" stop-color="rgb(13,13,13)" stop-opacity="0.2"/><stop offset="1" stop-color="rgb(13,13,13)" stop-opacity="0"/></radialGradient>
<radialGradient id="hd13" gradientUnits="userSpaceOnUse" cx="0" cy="0" r="1" gradientTransform="translate(0 0) scale(10 6)" ><stop offset="0" stop-color="rgb(13,13,13)" stop-opacity="1"/><stop offset="0.25" stop-color="rgb(13,13,13)" stop-opacity="0.88"/><stop offset="0.5" stop-color="rgb(13,13,13)" stop-opacity="0.55"/><stop offset="0.75" stop-color="rgb(13,13,13)" stop-opacity="0.2"/><stop offset="1" stop-color="rgb(13,13,13)" stop-opacity="0"/></radialGradient>
<radialGradient id="hd14" gradientUnits="userSpaceOnUse" cx="0" cy="0" r="1" gradientTransform="translate(0 0) scale(10 6)" ><stop offset="0" stop-color="rgb(13,13,13)" stop-opacity="1"/><stop offset="0.25" stop-color="rgb(13,13,13)" stop-opacity="0.88"/><stop offset="0.5" stop-color="rgb(13,13,13)" stop-opacity="0.55"/><stop offset="0.75" stop-color="rgb(13,13,13)" stop-opacity="0.2"/><stop offset="1" stop-color="rgb(13,13,13)" stop-opacity="0"/></radialGradient>
<radialGradient id="hb0" gradientUnits="userSpaceOnUse" cx="0" cy="0" r="1" gradientTransform="translate(0 0) scale(13.5 11.5)" ><stop offset="0" stop-color="rgb(120,120,120)" stop-opacity="1"/><stop offset="0.25" stop-color="rgb(120,120,120)" stop-opacity="0.88"/><stop offset="0.5" stop-color="rgb(120,120,120)" stop-opacity="0.55"/><stop offset="0.75" stop-color="rgb(120,120,120)" stop-opacity="0.2"/><stop offset="1" stop-color="rgb(120,120,120)" stop-opacity="0"/></radialGradient>
<radialGradient id="hb1" gradientUnits="userSpaceOnUse" cx="0" cy="0" r="1" gradientTransform="translate(0 0) scale(13.5 11.5)" ><stop offset="0" stop-color="rgb(115,115,115)" stop-opacity="1"/><stop offset="0.25" stop-color="rgb(115,115,115)" stop-opacity="0.88"/><stop offset="0.5" stop-color="rgb(115,115,115)" stop-opacity="0.55"/><stop offset="0.75" stop-color="rgb(115,115,115)" stop-opacity="0.2"/><stop offset="1" stop-color="rgb(115,115,115)" stop-opacity="0"/></radialGradient>
<radialGradient id="hb2" gradientUnits="userSpaceOnUse" cx="0" cy="0" r="1" gradientTransform="translate(0 0) scale(13.5 11.5)" ><stop offset="0" stop-color="rgb(97,97,97)" stop-opacity="1"/><stop offset="0.25" stop-color="rgb(97,97,97)" stop-opacity="0.88"/><stop offset="0.5" stop-color="rgb(97,97,97)" stop-opacity="0.55"/><stop offset="0.75" stop-color="rgb(97,97,97)" stop-opacity="0.2"/><stop offset="1" stop-color="rgb(97,97,97)" stop-opacity="0"/></radialGradient>
<radialGradient id="hb3" gradientUnits="userSpaceOnUse" cx="0" cy="0" r="1" gradientTransform="translate(0 0) scale(13.5 11.5)" ><stop offset="0" stop-color="rgb(87,87,87)" stop-opacity="1"/><stop offset="0.25" stop-color="rgb(87,87,87)" stop-opacity="0.88"/><stop offset="0.5" stop-color="rgb(87,87,87)" stop-opacity="0.55"/><stop offset="0.75" stop-color="rgb(87,87,87)" stop-opacity="0.2"/><stop offset="1" stop-color="rgb(87,87,87)" stop-opacity="0"/></radialGradient>
<radialGradient id="hb4" gradientUnits="userSpaceOnUse" cx="0" cy="0" r="1" gradientTransform="translate(0 0) scale(13.5 11.5)" ><stop offset="0" stop-color="rgb(76,76,76)" stop-opacity="1"/><stop offset="0.25" stop-color="rgb(76,76,76)" stop-opacity="0.88"/><stop offset="0.5" stop-color="rgb(76,76,76)" stop-opacity="0.55"/><stop offset="0.75" stop-color="rgb(76,76,76)" stop-opacity="0.2"/><stop offset="1" stop-color="rgb(76,76,76)" stop-opacity="0"/></radialGradient>
<radialGradient id="hb5" gradientUnits="userSpaceOnUse" cx="0" cy="0" r="1" gradientTransform="translate(0 0) scale(13.5 11.5)" ><stop offset="0" stop-color="rgb(69,69,69)" stop-opacity="1"/><stop offset="0.25" stop-color="rgb(69,69,69)" stop-opacity="0.88"/><stop offset="0.5" stop-color="rgb(69,69,69)" stop-opacity="0.55"/><stop offset="0.75" stop-color="rgb(69,69,69)" stop-opacity="0.2"/><stop offset="1" stop-color="rgb(69,69,69)" stop-opacity="0"/></radialGradient>
<radialGradient id="hb6" gradientUnits="userSpaceOnUse" cx="0" cy="0" r="1" gradientTransform="translate(0 0) scale(13.5 11.5)" ><stop offset="0" stop-color="rgb(64,64,64)" stop-opacity="1"/><stop offset="0.25" stop-color="rgb(64,64,64)" stop-opacity="0.88"/><stop offset="0.5" stop-color="rgb(64,64,64)" stop-opacity="0.55"/><stop offset="0.75" stop-color="rgb(64,64,64)" stop-opacity="0.2"/><stop offset="1" stop-color="rgb(64,64,64)" stop-opacity="0"/></radialGradient>
<radialGradient id="hb7" gradientUnits="userSpaceOnUse" cx="0" cy="0" r="1" gradientTransform="translate(0 0) scale(13.5 11.5)" ><stop offset="0" stop-color="rgb(59,59,59)" stop-opacity="1"/><stop offset="0.25" stop-color="rgb(59,59,59)" stop-opacity="0.88"/><stop offset="0.5" stop-color="rgb(59,59,59)" stop-opacity="0.55"/><stop offset="0.75" stop-color="rgb(59,59,59)" stop-opacity="0.2"/><stop offset="1" stop-color="rgb(59,59,59)" stop-opacity="0"/></radialGradient>
<radialGradient id="hb8" gradientUnits="userSpaceOnUse" cx="0" cy="0" r="1" gradientTransform="translate(0 0) scale(13.5 11.5)" ><stop offset="0" stop-color="rgb(54,54,54)" stop-opacity="1"/><stop offset="0.25" stop-color="rgb(54,54,54)" stop-opacity="0.88"/><stop offset="0.5" stop-color="rgb(54,54,54)" stop-opacity="0.55"/><stop offset="0.75" stop-color="rgb(54,54,54)" stop-opacity="0.2"/><stop offset="1" stop-color="rgb(54,54,54)" stop-opacity="0"/></radialGradient>
<radialGradient id="hb9" gradientUnits="userSpaceOnUse" cx="0" cy="0" r="1" gradientTransform="translate(0 0) scale(13.5 11.5)" ><stop offset="0" stop-color="rgb(51,51,51)" stop-opacity="1"/><stop offset="0.25" stop-color="rgb(51,51,51)" stop-opacity="0.88"/><stop offset="0.5" stop-color="rgb(51,51,51)" stop-opacity="0.55"/><stop offset="0.75" stop-color="rgb(51,51,51)" stop-opacity="0.2"/><stop offset="1" stop-color="rgb(51,51,51)" stop-opacity="0"/></radialGradient>
<radialGradient id="hb10" gradientUnits="userSpaceOnUse" cx="0" cy="0" r="1" gradientTransform="translate(0 0) scale(13.5 11.5)" ><stop offset="0" stop-color="rgb(48,48,48)" stop-opacity="1"/><stop offset="0.25" stop-color="rgb(48,48,48)" stop-opacity="0.88"/><stop offset="0.5" stop-color="rgb(48,48,48)" stop-opacity="0.55"/><stop offset="0.75" stop-color="rgb(48,48,48)" stop-opacity="0.2"/><stop offset="1" stop-color="rgb(48,48,48)" stop-opacity="0"/></radialGradient>
<radialGradient id="hb11" gradientUnits="userSpaceOnUse" cx="0" cy="0" r="1" gradientTransform="translate(0 0) scale(13.5 11.5)" ><stop offset="0" stop-color="rgb(46,46,46)" stop-opacity="1"/><stop offset="0.25" stop-color="rgb(46,46,46)" stop-opacity="0.88"/><stop offset="0.5" stop-color="rgb(46,46,46)" stop-opacity="0.55"/><stop offset="0.75" stop-color="rgb(46,46,46)" stop-opacity="0.2"/><stop offset="1" stop-color="rgb(46,46,46)" stop-opacity="0"/></radialGradient>
<radialGradient id="hb12" gradientUnits="userSpaceOnUse" cx="0" cy="0" r="1" gradientTransform="translate(0 0) scale(13.5 11.5)" ><stop offset="0" stop-color="rgb(43,43,43)" stop-opacity="1"/><stop offset="0.25" stop-color="rgb(43,43,43)" stop-opacity="0.88"/><stop offset="0.5" stop-color="rgb(43,43,43)" stop-opacity="0.55"/><stop offset="0.75" stop-color="rgb(43,43,43)" stop-opacity="0.2"/><stop offset="1" stop-color="rgb(43,43,43)" stop-opacity="0"/></radialGradient>
<radialGradient id="hb13" gradientUnits="userSpaceOnUse" cx="0" cy="0" r="1" gradientTransform="translate(0 0) scale(13.5 11.5)" ><stop offset="0" stop-color="rgb(41,41,41)" stop-opacity="1"/><stop offset="0.25" stop-color="rgb(41,41,41)" stop-opacity="0.88"/><stop offset="0.5" stop-color="rgb(41,41,41)" stop-opacity="0.55"/><stop offset="0.75" stop-color="rgb(41,41,41)" stop-opacity="0.2"/><stop offset="1" stop-color="rgb(41,41,41)" stop-opacity="0"/></radialGradient>
<radialGradient id="hb14" gradientUnits="userSpaceOnUse" cx="0" cy="0" r="1" gradientTransform="translate(0 0) scale(13.5 11.5)" ><stop offset="0" stop-color="rgb(38,38,38)" stop-opacity="1"/><stop offset="0.25" stop-color="rgb(38,38,38)" stop-opacity="0.88"/><stop offset="0.5" stop-color="rgb(38,38,38)" stop-opacity="0.55"/><stop offset="0.75" stop-color="rgb(38,38,38)" stop-opacity="0.2"/><stop offset="1" stop-color="rgb(38,38,38)" stop-opacity="0"/></radialGradient>
<linearGradient id="cb497" x1="0" y1="0" x2="0" y2="1"><stop offset="0" stop-color="#8f0000"/><stop offset="0.11" stop-color="#ff0000"/><stop offset="0.36" stop-color="#ffff00"/><stop offset="0.5" stop-color="#80ff80"/><stop offset="0.62" stop-color="#00ffff"/><stop offset="0.87" stop-color="#0000ff"/><stop offset="1" stop-color="#00008f"/></linearGradient>
</defs>
<rect x="0" y="0" width="520" height="622" fill="#fff"/>
<g clip-path="url(#cpa)"><g filter="url(#jet)">
<rect x="5" y="-1" width="122.5" height="93.5" fill="#000"/>
<g clip-path="url(#cpa2)"><ellipse cx="66.2" cy="45.6" rx="42" ry="21" fill="url(#ga)"/></g>
</g>
<path d="M7 52.5 H27 L38 33.5 H94.4 L105 52.5 H125.5 M7 58.75 H125.5" fill="none" stroke="#fff" stroke-width="1.3"/>
</g>
<text x="7" y="17" font-family='"DejaVu Sans", "Liberation Sans", sans-serif' font-size="18" font-weight="normal" fill="#fff" text-anchor="start" >(a)</text>
<text x="88" y="22" font-family='"DejaVu Sans", "Liberation Sans", sans-serif' font-size="10.8" font-weight="bold" fill="#fff" text-anchor="start" >Air</text>
<text x="87" y="57.5" font-family='"DejaVu Sans", "Liberation Sans", sans-serif' font-size="10.3" font-weight="bold" fill="#fff" text-anchor="start" >LN</text>
<text x="55.2" y="84.1" font-family='"DejaVu Sans", "Liberation Sans", sans-serif' font-size="12.2" font-weight="bold" fill="#fff" text-anchor="start" >TE</text>
<text x="87.5" y="85.2" font-family='"DejaVu Sans", "Liberation Sans", sans-serif' font-size="11" font-weight="bold" fill="#fff" textLength="28" lengthAdjust="spacingAndGlyphs">SiO<tspan dy="3" font-size="10.6">2</tspan></text>
<g clip-path="url(#cpb)"><g filter="url(#jet)">
<rect x="137.75" y="-1" width="122.25" height="93.5" fill="#000"/>
<path d="M165 35 H230 V50 H165 Z" fill="url(#gb2)"/>
<g filter="url(#blb)" style="mix-blend-mode:lighten"><rect x="160" y="20" width="75" height="25" fill="#000"/><rect x="169" y="29" width="57" height="6.3" fill="url(#gb)"/></g>
</g>
<path d="M139.75 48 H158 L169.75 28.5 H225 L237.5 48 H258 M139.75 54 H159 L170.3 35.4 H220.4 L233.5 54 H258 M139.75 61.25 H258" fill="none" stroke="#fff" stroke-width="1.3"/>
<rect x="177.25" y="19.4" width="40.25" height="9.1" fill="none" stroke="#fff" stroke-width="1.3"/>
<text x="140.3" y="17" font-family='"DejaVu Sans", "Liberation Sans", sans-serif' font-size="18" font-weight="normal" fill="#fff" text-anchor="start" >(b)</text>
<text x="190.6" y="28" font-family='"DejaVu Sans", "Liberation Sans", sans-serif' font-size="10.6" font-weight="bold" fill="#fff" text-anchor="start" >Au</text>
<text x="218.8" y="23.4" font-family='"DejaVu Sans", "Liberation Sans", sans-serif' font-size="9.9" font-weight="bold" fill="#fff" text-anchor="start" >Air</text>
<text x="235.3" y="55" font-family='"DejaVu Sans", "Liberation Sans", sans-serif' font-size="10.8" font-weight="bold" fill="#fff" text-anchor="start" >a-Si</text>
<text x="217.5" y="58.75" font-family='"DejaVu Sans", "Liberation Sans", sans-serif' font-size="10.3" font-weight="bold" fill="#fff" text-anchor="start" >LN</text>
<text x="192.3" y="83.8" font-family='"DejaVu Sans", "Liberation Sans", sans-serif' font-size="12.2" font-weight="bold" fill="#fff" text-anchor="start" >TE</text>
<text x="218" y="86.7" font-family='"DejaVu Sans", "Liberation Sans", sans-serif' font-size="11" font-weight="bold" fill="#fff" textLength="27.8" lengthAdjust="spacingAndGlyphs">SiO<tspan dy="3" font-size="10.6">2</tspan></text>
</g>
<g clip-path="url(#cpc)"><g filter="url(#jet)">
<rect x="267.75" y="-1" width="122" height="93.5" fill="#000"/>
<g filter="url(#blc0)">
<rect x="267.75" y="-1" width="122" height="93.5" fill="#000"/>
<path d="M311 46 Q329 50 347 46" fill="none" stroke="rgb(43,43,43)" stroke-width="22" stroke-linecap="round"/>
</g>
<g clip-path="url(#cpc2)">
<g filter="url(#blc)">
<rect x="267.75" y="-1" width="122" height="93.5" fill="#000"/>
<path d="M312 46 Q329 51 346 46" fill="none" stroke="rgb(158,158,158)" stroke-width="17.5" stroke-linecap="round"/>
<path d="M312.5 46.3 Q329 50.5 345.5 46.3" fill="none" stroke="rgb(255,255,255)" stroke-width="12.5" stroke-linecap="round"/>
</g>
<g filter="url(#blc0)" style="mix-blend-mode:lighten">
<rect x="267.75" y="-1" width="122" height="93.5" fill="#000"/>
<path d="M311 47.5 Q329 52 347 47.5" fill="none" stroke="rgb(102,102,102)" stroke-width="25" stroke-linecap="round"/>
</g>
<g filter="url(#blc2)" style="mix-blend-mode:lighten">
<rect x="267.75" y="-1" width="122" height="93.5" fill="#000"/>
<path d="M314.5 46.5 Q329 50 343.5 46.5" fill="none" stroke="rgb(255,255,255)" stroke-width="7.5" stroke-linecap="round"/>
</g>
</g>
</g>
<path d="M269.75 53.25 H290.5 L301.25 34.25 H355.5 L367 53.25 H387.75 M269.75 60 H387.75" fill="none" stroke="#fff" stroke-width="1.3"/>
</g>
<text x="270.5" y="17" font-family='"DejaVu Sans", "Liberation Sans", sans-serif' font-size="18" font-weight="normal" fill="#fff" text-anchor="start" >(c)</text>
<text x="351.25" y="22" font-family='"DejaVu Sans", "Liberation Sans", sans-serif' font-size="10.8" font-weight="bold" fill="#fff" text-anchor="start" >Air</text>
<text x="350" y="57.5" font-family='"DejaVu Sans", "Liberation Sans", sans-serif' font-size="10.3" font-weight="bold" fill="#fff" text-anchor="start" >LN</text>
<text x="319.7" y="83.8" font-family='"DejaVu Sans", "Liberation Sans", sans-serif' font-size="12" font-weight="bold" fill="#fff" text-anchor="start" >TM</text>
<text x="350.2" y="85.7" font-family='"DejaVu Sans", "Liberation Sans", sans-serif' font-size="11" font-weight="bold" fill="#fff" textLength="27.8" lengthAdjust="spacingAndGlyphs">SiO<tspan dy="2.9" font-size="10.6">2</tspan></text>
<g clip-path="url(#cpd)"><g filter="url(#jet)">
<rect x="400.25" y="-1" width="119.75" height="91.75" fill="#000"/>
<g clip-path="url(#cpd2)"><ellipse cx="459.5" cy="33.5" rx="27" ry="23" fill="url(#gd)"/></g>
<ellipse cx="0" cy="0" rx="8.5" ry="3.6" fill="url(#gds)" transform="translate(449 30)" style="mix-blend-mode:lighten"/>
<ellipse cx="0" cy="0" rx="8.5" ry="3.6" fill="url(#gds)" transform="translate(470 30)" style="mix-blend-mode:lighten"/>
</g>
<path d="M402.25 45.5 H421.25 L431.25 25.75 H487.5 L499.4 45.5 H518 M402.25 52.5 H421.25 L432.5 33.75 H487.5 L499.6 52.5 H518 M402.25 59.5 H518" fill="none" stroke="#fff" stroke-width="1.3"/>
<rect x="439.5" y="17" width="40" height="8.75" fill="none" stroke="#fff" stroke-width="1.3"/>
</g>
<text x="403.3" y="17" font-family='"DejaVu Sans", "Liberation Sans", sans-serif' font-size="18" font-weight="normal" fill="#fff" text-anchor="start" >(d)</text>
<text x="481.25" y="20" font-family='"DejaVu Sans", "Liberation Sans", sans-serif' font-size="10.8" font-weight="bold" fill="#fff" text-anchor="start" >Air</text>
<text x="480" y="55.5" font-family='"DejaVu Sans", "Liberation Sans", sans-serif' font-size="10.3" font-weight="bold" fill="#fff" text-anchor="start" >LN</text>
<text x="451.2" y="83.8" font-family='"DejaVu Sans", "Liberation Sans", sans-serif' font-size="12" font-weight="bold" fill="#fff" text-anchor="start" >TM</text>
<text x="480.2" y="83.8" font-family='"DejaVu Sans", "Liberation Sans", sans-serif' font-size="11" font-weight="bold" fill="#fff" textLength="27.6" lengthAdjust="spacingAndGlyphs">SiO<tspan dy="2.7" font-size="10.6">2</tspan></text>
<line x1="39.5" y1="259.942" x2="213.8" y2="259.942" stroke="#f5dcdf" stroke-width="0.7"/>
<line x1="39.5" y1="249.874" x2="213.8" y2="249.874" stroke="#f5dcdf" stroke-width="0.7"/>
<line x1="39.5" y1="240.255" x2="213.8" y2="240.255" stroke="#f5dcdf" stroke-width="0.7"/>
<line x1="39.5" y1="231.045" x2="213.8" y2="231.045" stroke="#f5dcdf" stroke-width="0.7"/>
<line x1="39.5" y1="222.211" x2="213.8" y2="222.211" stroke="#f5dcdf" stroke-width="0.7"/>
<line x1="39.5" y1="213.723" x2="213.8" y2="213.723" stroke="#f5dcdf" stroke-width="0.7"/>
<line x1="39.5" y1="205.556" x2="213.8" y2="205.556" stroke="#f5dcdf" stroke-width="0.7"/>
<line x1="39.5" y1="197.686" x2="213.8" y2="197.686" stroke="#f5dcdf" stroke-width="0.7"/>
<line x1="39.5" y1="190.092" x2="213.8" y2="190.092" stroke="#f5dcdf" stroke-width="0.7"/>
<line x1="39.5" y1="182.756" x2="213.8" y2="182.756" stroke="#f5dcdf" stroke-width="0.7"/>
<line x1="39.5" y1="175.66" x2="213.8" y2="175.66" stroke="#f5dcdf" stroke-width="0.7"/>
<line x1="39.5" y1="168.789" x2="213.8" y2="168.789" stroke="#f5dcdf" stroke-width="0.7"/>
<line x1="39.5" y1="162.13" x2="213.8" y2="162.13" stroke="#f5dcdf" stroke-width="0.7"/>
<line x1="39.5" y1="155.67" x2="213.8" y2="155.67" stroke="#f5dcdf" stroke-width="0.7"/>
<line x1="39.5" y1="149.397" x2="213.8" y2="149.397" stroke="#f5dcdf" stroke-width="0.7"/>
<line x1="39.5" y1="143.3" x2="213.8" y2="143.3" stroke="#f5dcdf" stroke-width="0.7"/>
<line x1="39.5" y1="137.371" x2="213.8" y2="137.371" stroke="#f5dcdf" stroke-width="0.7"/>
<line x1="39.5" y1="131.6" x2="213.8" y2="131.6" stroke="#f5dcdf" stroke-width="0.7"/>
<line x1="39.5" y1="125.979" x2="213.8" y2="125.979" stroke="#f5dcdf" stroke-width="0.7"/>
<line x1="126.65" y1="120.5" x2="126.65" y2="270.5" stroke="#cfcfcf" stroke-width="0.8"/>
<polyline fill="none" stroke="#2a2ab4" stroke-width="1.3" stroke-linejoin="round" points="48.2,152.5 56.9,197.5 65.6,224.5 74.4,241.5 83.1,251.5 91.8,257.5 100.5,261.0 109.2,263.5 117.9,265.0 126.7,266.0 135.4,266.5 144.1,266.8 152.8,267.0 161.5,267.2 170.2,267.3 178.9,267.4 187.7,267.5 196.4,267.5 205.1,267.6 213.8,267.6"/>
<circle cx="48.2" cy="152.5" r="2.3" fill="#141480" stroke="#0c0c60" stroke-width="0.7"/>
<circle cx="56.9" cy="197.5" r="2.3" fill="#141480" stroke="#0c0c60" stroke-width="0.7"/>
<circle cx="65.6" cy="224.5" r="2.3" fill="#141480" stroke="#0c0c60" stroke-width="0.7"/>
<circle cx="74.4" cy="241.5" r="2.3" fill="#141480" stroke="#0c0c60" stroke-width="0.7"/>
<circle cx="83.1" cy="251.5" r="2.3" fill="#141480" stroke="#0c0c60" stroke-width="0.7"/>
<circle cx="91.8" cy="257.5" r="2.3" fill="#141480" stroke="#0c0c60" stroke-width="0.7"/>
<circle cx="100.5" cy="261.0" r="2.3" fill="#141480" stroke="#0c0c60" stroke-width="0.7"/>
<circle cx="109.2" cy="263.5" r="2.3" fill="#141480" stroke="#0c0c60" stroke-width="0.7"/>
<circle cx="117.9" cy="265.0" r="2.3" fill="#141480" stroke="#0c0c60" stroke-width="0.7"/>
<circle cx="126.7" cy="266.0" r="2.3" fill="#141480" stroke="#0c0c60" stroke-width="0.7"/>
<circle cx="135.4" cy="266.5" r="2.3" fill="#141480" stroke="#0c0c60" stroke-width="0.7"/>
<circle cx="144.1" cy="266.8" r="2.3" fill="#141480" stroke="#0c0c60" stroke-width="0.7"/>
<circle cx="152.8" cy="267.0" r="2.3" fill="#141480" stroke="#0c0c60" stroke-width="0.7"/>
<circle cx="161.5" cy="267.2" r="2.3" fill="#141480" stroke="#0c0c60" stroke-width="0.7"/>
<circle cx="170.2" cy="267.3" r="2.3" fill="#141480" stroke="#0c0c60" stroke-width="0.7"/>
<circle cx="178.9" cy="267.4" r="2.3" fill="#141480" stroke="#0c0c60" stroke-width="0.7"/>
<circle cx="187.7" cy="267.5" r="2.3" fill="#141480" stroke="#0c0c60" stroke-width="0.7"/>
<circle cx="196.4" cy="267.5" r="2.3" fill="#141480" stroke="#0c0c60" stroke-width="0.7"/>
<circle cx="205.1" cy="267.6" r="2.3" fill="#141480" stroke="#0c0c60" stroke-width="0.7"/>
<circle cx="213.8" cy="267.6" r="2.3" fill="#141480" stroke="#0c0c60" stroke-width="0.7"/>
<polyline fill="none" stroke="#d8232a" stroke-width="1.3" stroke-linejoin="round" points="100.5,201.5 108.1,197.5 115.6,193.0 123.2,188.5 130.7,185.0 138.3,181.5 145.8,178.5 153.4,176.0 160.9,173.5 168.5,171.5 176.0,170.0 183.6,168.5 191.1,167.0 198.7,165.5 206.2,164.0 213.8,162.5"/>
<circle cx="100.5" cy="201.5" r="2.45" fill="#a80f1a" stroke="#5a0a10" stroke-width="0.7"/>
<circle cx="108.1" cy="197.5" r="2.45" fill="#a80f1a" stroke="#5a0a10" stroke-width="0.7"/>
<circle cx="115.6" cy="193.0" r="2.45" fill="#a80f1a" stroke="#5a0a10" stroke-width="0.7"/>
<circle cx="123.2" cy="188.5" r="2.45" fill="#a80f1a" stroke="#5a0a10" stroke-width="0.7"/>
<circle cx="130.7" cy="185.0" r="2.45" fill="#a80f1a" stroke="#5a0a10" stroke-width="0.7"/>
<circle cx="138.3" cy="181.5" r="2.45" fill="#a80f1a" stroke="#5a0a10" stroke-width="0.7"/>
<circle cx="145.8" cy="178.5" r="2.45" fill="#a80f1a" stroke="#5a0a10" stroke-width="0.7"/>
<circle cx="153.4" cy="176.0" r="2.45" fill="#a80f1a" stroke="#5a0a10" stroke-width="0.7"/>
<circle cx="160.9" cy="173.5" r="2.45" fill="#a80f1a" stroke="#5a0a10" stroke-width="0.7"/>
<circle cx="168.5" cy="171.5" r="2.45" fill="#a80f1a" stroke="#5a0a10" stroke-width="0.7"/>
<circle cx="176.0" cy="170.0" r="2.45" fill="#a80f1a" stroke="#5a0a10" stroke-width="0.7"/>
<circle cx="183.6" cy="168.5" r="2.45" fill="#a80f1a" stroke="#5a0a10" stroke-width="0.7"/>
<circle cx="191.1" cy="167.0" r="2.45" fill="#a80f1a" stroke="#5a0a10" stroke-width="0.7"/>
<circle cx="198.7" cy="165.5" r="2.45" fill="#a80f1a" stroke="#5a0a10" stroke-width="0.7"/>
<circle cx="206.2" cy="164.0" r="2.45" fill="#a80f1a" stroke="#5a0a10" stroke-width="0.7"/>
<circle cx="213.8" cy="162.5" r="2.45" fill="#a80f1a" stroke="#5a0a10" stroke-width="0.7"/>
<path d="M39.5 120.5 H213.8" stroke="#222" stroke-width="1" fill="none"/>
<path d="M39.5 270.5 H213.8" stroke="#222" stroke-width="1" fill="none"/>
<path d="M39.5 120.5 V270.5" stroke="#d8232a" stroke-width="1.2" fill="none"/>
<path d="M213.8 120.5 V270.5" stroke="#2a2ab4" stroke-width="1.2" fill="none"/>
<line x1="39.5" y1="270.5" x2="42" y2="270.5" stroke="#d8232a" stroke-width="1"/>
<text transform="translate(34.9 275.1) scale(1.07 1)" font-family='"Liberation Sans", sans-serif' font-size="13.2" fill="#d8232a" text-anchor="end">4</text>
<line x1="39.5" y1="222.211" x2="42" y2="222.211" stroke="#d8232a" stroke-width="1"/>
<text transform="translate(34.9 226.811) scale(1.07 1)" font-family='"Liberation Sans", sans-serif' font-size="13.2" fill="#d8232a" text-anchor="end">5</text>
<line x1="39.5" y1="182.756" x2="42" y2="182.756" stroke="#d8232a" stroke-width="1"/>
<text transform="translate(34.9 187.356) scale(1.07 1)" font-family='"Liberation Sans", sans-serif' font-size="13.2" fill="#d8232a" text-anchor="end">6</text>
<line x1="39.5" y1="149.397" x2="42" y2="149.397" stroke="#d8232a" stroke-width="1"/>
<text transform="translate(34.9 153.997) scale(1.07 1)" font-family='"Liberation Sans", sans-serif' font-size="13.2" fill="#d8232a" text-anchor="end">7</text>
<line x1="39.5" y1="120.5" x2="42" y2="120.5" stroke="#d8232a" stroke-width="1"/>
<text transform="translate(34.9 125.1) scale(1.07 1)" font-family='"Liberation Sans", sans-serif' font-size="13.2" fill="#d8232a" text-anchor="end">8</text>
<line x1="39.5" y1="259.942" x2="41" y2="259.942" stroke="#d8232a" stroke-width="0.8"/>
<line x1="39.5" y1="249.874" x2="41" y2="249.874" stroke="#d8232a" stroke-width="0.8"/>
<line x1="39.5" y1="240.255" x2="41" y2="240.255" stroke="#d8232a" stroke-width="0.8"/>
<line x1="39.5" y1="231.045" x2="41" y2="231.045" stroke="#d8232a" stroke-width="0.8"/>
<line x1="39.5" y1="222.211" x2="41" y2="222.211" stroke="#d8232a" stroke-width="0.8"/>
<line x1="39.5" y1="213.723" x2="41" y2="213.723" stroke="#d8232a" stroke-width="0.8"/>
<line x1="39.5" y1="205.556" x2="41" y2="205.556" stroke="#d8232a" stroke-width="0.8"/>
<line x1="39.5" y1="197.686" x2="41" y2="197.686" stroke="#d8232a" stroke-width="0.8"/>
<line x1="39.5" y1="190.092" x2="41" y2="190.092" stroke="#d8232a" stroke-width="0.8"/>
<line x1="39.5" y1="182.756" x2="41" y2="182.756" stroke="#d8232a" stroke-width="0.8"/>
<line x1="39.5" y1="175.66" x2="41" y2="175.66" stroke="#d8232a" stroke-width="0.8"/>
<line x1="39.5" y1="168.789" x2="41" y2="168.789" stroke="#d8232a" stroke-width="0.8"/>
<line x1="39.5" y1="162.13" x2="41" y2="162.13" stroke="#d8232a" stroke-width="0.8"/>
<line x1="39.5" y1="155.67" x2="41" y2="155.67" stroke="#d8232a" stroke-width="0.8"/>
<line x1="39.5" y1="149.397" x2="41" y2="149.397" stroke="#d8232a" stroke-width="0.8"/>
<line x1="39.5" y1="143.3" x2="41" y2="143.3" stroke="#d8232a" stroke-width="0.8"/>
<line x1="39.5" y1="137.371" x2="41" y2="137.371" stroke="#d8232a" stroke-width="0.8"/>
<line x1="39.5" y1="131.6" x2="41" y2="131.6" stroke="#d8232a" stroke-width="0.8"/>
<line x1="39.5" y1="125.979" x2="41" y2="125.979" stroke="#d8232a" stroke-width="0.8"/>
<line x1="211.3" y1="270.5" x2="213.8" y2="270.5" stroke="#2a2ab4" stroke-width="1"/>
<text transform="translate(218.2 275.1) scale(1.07 1)" font-family='"Liberation Sans", sans-serif' font-size="13.2" fill="#2a2ab4">0</text>
<line x1="211.3" y1="233" x2="213.8" y2="233" stroke="#2a2ab4" stroke-width="1"/>
<text transform="translate(218.2 237.6) scale(1.07 1)" font-family='"Liberation Sans", sans-serif' font-size="13.2" fill="#2a2ab4">20</text>
<line x1="211.3" y1="195.5" x2="213.8" y2="195.5" stroke="#2a2ab4" stroke-width="1"/>
<text transform="translate(218.2 200.1) scale(1.07 1)" font-family='"Liberation Sans", sans-serif' font-size="13.2" fill="#2a2ab4">40</text>
<line x1="211.3" y1="158" x2="213.8" y2="158" stroke="#2a2ab4" stroke-width="1"/>
<text transform="translate(218.2 162.6) scale(1.07 1)" font-family='"Liberation Sans", sans-serif' font-size="13.2" fill="#2a2ab4">60</text>
<line x1="211.3" y1="120.5" x2="213.8" y2="120.5" stroke="#2a2ab4" stroke-width="1"/>
<text transform="translate(218.2 125.1) scale(1.07 1)" font-family='"Liberation Sans", sans-serif' font-size="13.2" fill="#2a2ab4">80</text>
<line x1="39.5" y1="268" x2="39.5" y2="270.5" stroke="#222" stroke-width="1"/>
<line x1="39.5" y1="120.5" x2="39.5" y2="123" stroke="#222" stroke-width="1"/>
<text x="39.5" y="289.1" font-family='"Liberation Sans", sans-serif' font-size="13.4" font-weight="normal" fill="#2b2b2b" text-anchor="middle" >0</text>
<line x1="126.65" y1="268" x2="126.65" y2="270.5" stroke="#222" stroke-width="1"/>
<line x1="126.65" y1="120.5" x2="126.65" y2="123" stroke="#222" stroke-width="1"/>
<text x="126.65" y="289.1" font-family='"Liberation Sans", sans-serif' font-size="13.4" font-weight="normal" fill="#2b2b2b" text-anchor="middle" >100</text>
<line x1="213.8" y1="268" x2="213.8" y2="270.5" stroke="#222" stroke-width="1"/>
<line x1="213.8" y1="120.5" x2="213.8" y2="123" stroke="#222" stroke-width="1"/>
<text x="213.8" y="289.1" font-family='"Liberation Sans", sans-serif' font-size="13.4" font-weight="normal" fill="#2b2b2b" text-anchor="middle" >200</text>
<text x="117.5" y="139" font-family='"DejaVu Sans", "Liberation Sans", sans-serif' font-size="13.9" font-weight="bold" fill="#111" text-anchor="start" textLength="20.4" lengthAdjust="spacingAndGlyphs">TE</text>
<text transform="translate(23.2 268.4) rotate(-90)" font-family='"DejaVu Sans Light", "DejaVu Sans", "Liberation Sans", sans-serif' font-size="10.8" fill="#d8232a" stroke="#d8232a" stroke-width="0.35" textLength="145.4" lengthAdjust="spacingAndGlyphs">TE Absorption length [μm]</text>
<text transform="translate(247 272.5) rotate(-90)" font-family='"DejaVu Sans Light", "DejaVu Sans", "Liberation Sans", sans-serif' font-size="12.8" fill="#2a2ab4" stroke="#2a2ab4" stroke-width="0.35" textLength="155" lengthAdjust="spacingAndGlyphs">Absorption in metal [%]</text>
<text x="57" y="308.3" font-family='"DejaVu Sans Light", "DejaVu Sans", "Liberation Sans", sans-serif' font-size="14.6" fill="#333" stroke="#333" stroke-width="0.45" textLength="140.3" lengthAdjust="spacingAndGlyphs">Silicon height[nm]</text>
<text x="2.5" y="116.2" font-family='"DejaVu Sans", "Liberation Sans", sans-serif' font-size="18" font-weight="normal" fill="#111" text-anchor="start" >(e)</text>
<line x1="312" y1="257.532" x2="465.5" y2="257.532" stroke="#f5dcdf" stroke-width="0.7"/>
<line x1="312" y1="243.958" x2="465.5" y2="243.958" stroke="#f5dcdf" stroke-width="0.7"/>
<line x1="312" y1="231.471" x2="465.5" y2="231.471" stroke="#f5dcdf" stroke-width="0.7"/>
<line x1="312" y1="219.91" x2="465.5" y2="219.91" stroke="#f5dcdf" stroke-width="0.7"/>
<line x1="312" y1="209.147" x2="465.5" y2="209.147" stroke="#f5dcdf" stroke-width="0.7"/>
<line x1="312" y1="199.079" x2="465.5" y2="199.079" stroke="#f5dcdf" stroke-width="0.7"/>
<line x1="312" y1="189.622" x2="465.5" y2="189.622" stroke="#f5dcdf" stroke-width="0.7"/>
<line x1="312" y1="180.705" x2="465.5" y2="180.705" stroke="#f5dcdf" stroke-width="0.7"/>
<line x1="312" y1="172.271" x2="465.5" y2="172.271" stroke="#f5dcdf" stroke-width="0.7"/>
<line x1="312" y1="164.269" x2="465.5" y2="164.269" stroke="#f5dcdf" stroke-width="0.7"/>
<line x1="312" y1="156.658" x2="465.5" y2="156.658" stroke="#f5dcdf" stroke-width="0.7"/>
<line x1="312" y1="149.401" x2="465.5" y2="149.401" stroke="#f5dcdf" stroke-width="0.7"/>
<line x1="312" y1="142.466" x2="465.5" y2="142.466" stroke="#f5dcdf" stroke-width="0.7"/>
<line x1="312" y1="135.827" x2="465.5" y2="135.827" stroke="#f5dcdf" stroke-width="0.7"/>
<line x1="312" y1="129.459" x2="465.5" y2="129.459" stroke="#f5dcdf" stroke-width="0.7"/>
<line x1="312" y1="123.34" x2="465.5" y2="123.34" stroke="#f5dcdf" stroke-width="0.7"/>
<line x1="363.167" y1="122" x2="363.167" y2="272.4" stroke="#cfcfcf" stroke-width="0.8"/>
<line x1="414.333" y1="122" x2="414.333" y2="272.4" stroke="#cfcfcf" stroke-width="0.8"/>
<polyline fill="none" stroke="#2a2ab4" stroke-width="1.3" stroke-linejoin="round" points="317.1,159.0 324.9,185.5 332.7,205.0 340.5,219.0 348.4,229.0 356.2,236.5 364.0,242.5 371.8,246.5 379.6,250.0 387.4,252.5 395.2,254.0 403.0,255.5 410.8,256.2 418.6,257.0 426.5,257.5 434.3,257.8 442.1,258.0 449.9,258.2 457.7,258.4 465.5,258.5"/>
<circle cx="317.1" cy="159.0" r="2.3" fill="#141480" stroke="#0c0c60" stroke-width="0.7"/>
<circle cx="324.9" cy="185.5" r="2.3" fill="#141480" stroke="#0c0c60" stroke-width="0.7"/>
<circle cx="332.7" cy="205.0" r="2.3" fill="#141480" stroke="#0c0c60" stroke-width="0.7"/>
<circle cx="340.5" cy="219.0" r="2.3" fill="#141480" stroke="#0c0c60" stroke-width="0.7"/>
<circle cx="348.4" cy="229.0" r="2.3" fill="#141480" stroke="#0c0c60" stroke-width="0.7"/>
<circle cx="356.2" cy="236.5" r="2.3" fill="#141480" stroke="#0c0c60" stroke-width="0.7"/>
<circle cx="364.0" cy="242.5" r="2.3" fill="#141480" stroke="#0c0c60" stroke-width="0.7"/>
<circle cx="371.8" cy="246.5" r="2.3" fill="#141480" stroke="#0c0c60" stroke-width="0.7"/>
<circle cx="379.6" cy="250.0" r="2.3" fill="#141480" stroke="#0c0c60" stroke-width="0.7"/>
<circle cx="387.4" cy="252.5" r="2.3" fill="#141480" stroke="#0c0c60" stroke-width="0.7"/>
<circle cx="395.2" cy="254.0" r="2.3" fill="#141480" stroke="#0c0c60" stroke-width="0.7"/>
<circle cx="403.0" cy="255.5" r="2.3" fill="#141480" stroke="#0c0c60" stroke-width="0.7"/>
<circle cx="410.8" cy="256.2" r="2.3" fill="#141480" stroke="#0c0c60" stroke-width="0.7"/>
<circle cx="418.6" cy="257.0" r="2.3" fill="#141480" stroke="#0c0c60" stroke-width="0.7"/>
<circle cx="426.5" cy="257.5" r="2.3" fill="#141480" stroke="#0c0c60" stroke-width="0.7"/>
<circle cx="434.3" cy="257.8" r="2.3" fill="#141480" stroke="#0c0c60" stroke-width="0.7"/>
<circle cx="442.1" cy="258.0" r="2.3" fill="#141480" stroke="#0c0c60" stroke-width="0.7"/>
<circle cx="449.9" cy="258.2" r="2.3" fill="#141480" stroke="#0c0c60" stroke-width="0.7"/>
<circle cx="457.7" cy="258.4" r="2.3" fill="#141480" stroke="#0c0c60" stroke-width="0.7"/>
<circle cx="465.5" cy="258.5" r="2.3" fill="#141480" stroke="#0c0c60" stroke-width="0.7"/>
<polyline fill="none" stroke="#d8232a" stroke-width="1.3" stroke-linejoin="round" points="347.8,243.0 357.6,222.0 367.4,206.5 377.2,195.0 387.0,185.5 396.9,178.0 406.7,172.5 416.5,168.0 426.3,164.5 436.1,161.5 445.9,159.0 455.7,157.0 465.5,155.5"/>
<circle cx="347.8" cy="243.0" r="2.45" fill="#a80f1a" stroke="#5a0a10" stroke-width="0.7"/>
<circle cx="357.6" cy="222.0" r="2.45" fill="#a80f1a" stroke="#5a0a10" stroke-width="0.7"/>
<circle cx="367.4" cy="206.5" r="2.45" fill="#a80f1a" stroke="#5a0a10" stroke-width="0.7"/>
<circle cx="377.2" cy="195.0" r="2.45" fill="#a80f1a" stroke="#5a0a10" stroke-width="0.7"/>
<circle cx="387.0" cy="185.5" r="2.45" fill="#a80f1a" stroke="#5a0a10" stroke-width="0.7"/>
<circle cx="396.9" cy="178.0" r="2.45" fill="#a80f1a" stroke="#5a0a10" stroke-width="0.7"/>
<circle cx="406.7" cy="172.5" r="2.45" fill="#a80f1a" stroke="#5a0a10" stroke-width="0.7"/>
<circle cx="416.5" cy="168.0" r="2.45" fill="#a80f1a" stroke="#5a0a10" stroke-width="0.7"/>
<circle cx="426.3" cy="164.5" r="2.45" fill="#a80f1a" stroke="#5a0a10" stroke-width="0.7"/>
<circle cx="436.1" cy="161.5" r="2.45" fill="#a80f1a" stroke="#5a0a10" stroke-width="0.7"/>
<circle cx="445.9" cy="159.0" r="2.45" fill="#a80f1a" stroke="#5a0a10" stroke-width="0.7"/>
<circle cx="455.7" cy="157.0" r="2.45" fill="#a80f1a" stroke="#5a0a10" stroke-width="0.7"/>
<circle cx="465.5" cy="155.5" r="2.45" fill="#a80f1a" stroke="#5a0a10" stroke-width="0.7"/>
<path d="M312 122 H465.5" stroke="#222" stroke-width="1" fill="none"/>
<path d="M312 272.4 H465.5" stroke="#222" stroke-width="1" fill="none"/>
<path d="M312 122 V272.4" stroke="#d8232a" stroke-width="1.2" fill="none"/>
<path d="M465.5 122 V272.4" stroke="#2a2ab4" stroke-width="1.2" fill="none"/>
<line x1="312" y1="272.4" x2="314.5" y2="272.4" stroke="#d8232a" stroke-width="1"/>
<text transform="translate(307.4 277) scale(1.07 1)" font-family='"Liberation Sans", sans-serif' font-size="13.2" fill="#d8232a" text-anchor="end">100</text>
<line x1="312" y1="209.147" x2="314.5" y2="209.147" stroke="#d8232a" stroke-width="1"/>
<text transform="translate(307.4 213.747) scale(1.07 1)" font-family='"Liberation Sans", sans-serif' font-size="13.2" fill="#d8232a" text-anchor="end">150</text>
<line x1="312" y1="164.269" x2="314.5" y2="164.269" stroke="#d8232a" stroke-width="1"/>
<text transform="translate(307.4 168.869) scale(1.07 1)" font-family='"Liberation Sans", sans-serif' font-size="13.2" fill="#d8232a" text-anchor="end">200</text>
<line x1="312" y1="129.459" x2="314.5" y2="129.459" stroke="#d8232a" stroke-width="1"/>
<text transform="translate(307.4 134.059) scale(1.07 1)" font-family='"Liberation Sans", sans-serif' font-size="13.2" fill="#d8232a" text-anchor="end">250</text>
<line x1="312" y1="257.532" x2="313.5" y2="257.532" stroke="#d8232a" stroke-width="0.8"/>
<line x1="312" y1="243.958" x2="313.5" y2="243.958" stroke="#d8232a" stroke-width="0.8"/>
<line x1="312" y1="231.471" x2="313.5" y2="231.471" stroke="#d8232a" stroke-width="0.8"/>
<line x1="312" y1="219.91" x2="313.5" y2="219.91" stroke="#d8232a" stroke-width="0.8"/>
<line x1="312" y1="209.147" x2="313.5" y2="209.147" stroke="#d8232a" stroke-width="0.8"/>
<line x1="312" y1="199.079" x2="313.5" y2="199.079" stroke="#d8232a" stroke-width="0.8"/>
<line x1="312" y1="189.622" x2="313.5" y2="189.622" stroke="#d8232a" stroke-width="0.8"/>
<line x1="312" y1="180.705" x2="313.5" y2="180.705" stroke="#d8232a" stroke-width="0.8"/>
<line x1="312" y1="172.271" x2="313.5" y2="172.271" stroke="#d8232a" stroke-width="0.8"/>
<line x1="312" y1="164.269" x2="313.5" y2="164.269" stroke="#d8232a" stroke-width="0.8"/>
<line x1="312" y1="156.658" x2="313.5" y2="156.658" stroke="#d8232a" stroke-width="0.8"/>
<line x1="312" y1="149.401" x2="313.5" y2="149.401" stroke="#d8232a" stroke-width="0.8"/>
<line x1="312" y1="142.466" x2="313.5" y2="142.466" stroke="#d8232a" stroke-width="0.8"/>
<line x1="312" y1="135.827" x2="313.5" y2="135.827" stroke="#d8232a" stroke-width="0.8"/>
<line x1="312" y1="129.459" x2="313.5" y2="129.459" stroke="#d8232a" stroke-width="0.8"/>
<line x1="312" y1="123.34" x2="313.5" y2="123.34" stroke="#d8232a" stroke-width="0.8"/>
<line x1="463" y1="244.5" x2="465.5" y2="244.5" stroke="#2a2ab4" stroke-width="1"/>
<text transform="translate(469.9 249.1) scale(1.07 1)" font-family='"Liberation Sans", sans-serif' font-size="13.2" fill="#2a2ab4">20</text>
<line x1="463" y1="213.75" x2="465.5" y2="213.75" stroke="#2a2ab4" stroke-width="1"/>
<text transform="translate(469.9 218.35) scale(1.07 1)" font-family='"Liberation Sans", sans-serif' font-size="13.2" fill="#2a2ab4">40</text>
<line x1="463" y1="183" x2="465.5" y2="183" stroke="#2a2ab4" stroke-width="1"/>
<text transform="translate(469.9 187.6) scale(1.07 1)" font-family='"Liberation Sans", sans-serif' font-size="13.2" fill="#2a2ab4">60</text>
<line x1="463" y1="152.25" x2="465.5" y2="152.25" stroke="#2a2ab4" stroke-width="1"/>
<text transform="translate(469.9 156.85) scale(1.07 1)" font-family='"Liberation Sans", sans-serif' font-size="13.2" fill="#2a2ab4">80</text>
<line x1="463" y1="121.5" x2="465.5" y2="121.5" stroke="#2a2ab4" stroke-width="1"/>
<text transform="translate(469.9 126.1) scale(1.07 1)" font-family='"Liberation Sans", sans-serif' font-size="13.2" fill="#2a2ab4">100</text>
<line x1="312" y1="269.9" x2="312" y2="272.4" stroke="#222" stroke-width="1"/>
<line x1="312" y1="122" x2="312" y2="124.5" stroke="#222" stroke-width="1"/>
<text x="312" y="291" font-family='"Liberation Sans", sans-serif' font-size="13.4" font-weight="normal" fill="#2b2b2b" text-anchor="middle" >0</text>
<line x1="363.167" y1="269.9" x2="363.167" y2="272.4" stroke="#222" stroke-width="1"/>
<line x1="363.167" y1="122" x2="363.167" y2="124.5" stroke="#222" stroke-width="1"/>
<text x="363.167" y="291" font-family='"Liberation Sans", sans-serif' font-size="13.4" font-weight="normal" fill="#2b2b2b" text-anchor="middle" >100</text>
<line x1="414.333" y1="269.9" x2="414.333" y2="272.4" stroke="#222" stroke-width="1"/>
<line x1="414.333" y1="122" x2="414.333" y2="124.5" stroke="#222" stroke-width="1"/>
<text x="414.333" y="291" font-family='"Liberation Sans", sans-serif' font-size="13.4" font-weight="normal" fill="#2b2b2b" text-anchor="middle" >200</text>
<line x1="465.5" y1="269.9" x2="465.5" y2="272.4" stroke="#222" stroke-width="1"/>
<line x1="465.5" y1="122" x2="465.5" y2="124.5" stroke="#222" stroke-width="1"/>
<text x="466.5" y="291" font-family='"Liberation Sans", sans-serif' font-size="13.4" font-weight="normal" fill="#2b2b2b" text-anchor="middle" >300</text>
<text x="384" y="139" font-family='"DejaVu Sans", "Liberation Sans", sans-serif' font-size="13.9" font-weight="bold" fill="#111" text-anchor="start" textLength="25.8" lengthAdjust="spacingAndGlyphs">TM</text>
<text transform="translate(280.3 270) rotate(-90)" font-family='"DejaVu Sans Light", "DejaVu Sans", "Liberation Sans", sans-serif' font-size="10.8" fill="#d8232a" stroke="#d8232a" stroke-width="0.35" textLength="147.5" lengthAdjust="spacingAndGlyphs">TM Absorption length [μm]</text>
<text transform="translate(507 272) rotate(-90)" font-family='"DejaVu Sans Light", "DejaVu Sans", "Liberation Sans", sans-serif' font-size="12.8" fill="#2a2ab4" stroke="#2a2ab4" stroke-width="0.35" textLength="155" lengthAdjust="spacingAndGlyphs">Absorption in metal [%]</text>
<text x="312.5" y="308.3" font-family='"DejaVu Sans Light", "DejaVu Sans", "Liberation Sans", sans-serif' font-size="14.6" fill="#333" stroke="#333" stroke-width="0.45" textLength="140" lengthAdjust="spacingAndGlyphs">Silicon height[nm]</text>
<text x="273.8" y="119.6" font-family='"DejaVu Sans", "Liberation Sans", sans-serif' font-size="18" font-weight="normal" fill="#111" text-anchor="start" >(f)</text>
<text x="0.3" y="323" font-family='"DejaVu Sans", "Liberation Sans", sans-serif' font-size="18" font-weight="normal" fill="#111" text-anchor="start" >(g)</text>
<text x="0.3" y="479" font-family='"DejaVu Sans", "Liberation Sans", sans-serif' font-size="18" font-weight="normal" fill="#111" text-anchor="start" >(h)</text>
<g clip-path="url(#cpg)"><g filter="url(#jet)">
<rect x="4.25" y="323.5" width="480.25" height="138" fill="url(#gg0)"/>
<rect x="0" y="325.5" width="520" height="134" fill="url(#ggat)"/>
<g style="mix-blend-mode:lighten"><rect x="0" y="371.3" width="130" height="52" fill="url(#ggin)" mask="url(#mg)"/></g>
<g style="mix-blend-mode:normal">
<ellipse cx="0" cy="0" rx="15" ry="13" fill="url(#gk1)" transform="translate(126 395)"/>
<ellipse cx="0" cy="0" rx="15" ry="12" fill="url(#gk2)" transform="translate(174 392)"/>
<ellipse cx="0" cy="0" rx="15" ry="12" fill="url(#gk3)" transform="translate(225 393)"/>
<ellipse cx="0" cy="0" rx="15" ry="12" fill="url(#gk4)" transform="translate(287 393)"/>
<ellipse cx="0" cy="0" rx="17" ry="23" fill="url(#gl1)" transform="translate(149 400)"/>
<ellipse cx="0" cy="0" rx="17" ry="22" fill="url(#gl2)" transform="translate(199 401)"/>
<ellipse cx="0" cy="0" rx="17" ry="21" fill="url(#gl3)" transform="translate(250 402)"/>
<ellipse cx="0" cy="0" rx="17" ry="21" fill="url(#gl4)" transform="translate(313 402)"/>
<ellipse cx="0" cy="0" rx="17" ry="21" fill="url(#gl5)" transform="translate(367 402)"/>
<ellipse cx="0" cy="0" rx="27" ry="15" fill="url(#gh1a)" transform="translate(127 372.5)"/>
<ellipse cx="0" cy="0" rx="11" ry="2.6" fill="url(#gh1c)" transform="translate(128 361.6)"/>
<ellipse cx="0" cy="0" rx="18" ry="4.6" fill="url(#gh1b)" transform="translate(127.5 378.5)"/>
<ellipse cx="0" cy="0" rx="21" ry="12" fill="url(#gh2)" transform="translate(177.5 373.5)"/>
<ellipse cx="0" cy="0" rx="23" ry="12.5" fill="url(#gh3)" transform="translate(232 374.5)"/>
<ellipse cx="0" cy="0" rx="23" ry="12" fill="url(#gh4)" transform="translate(286 375.5)"/>
<ellipse cx="0" cy="0" rx="23" ry="12" fill="url(#gh5)" transform="translate(340 376)"/>
<ellipse cx="0" cy="0" rx="23" ry="12" fill="url(#gh6)" transform="translate(394 376)"/>
<ellipse cx="0" cy="0" rx="23" ry="12" fill="url(#gh7)" transform="translate(448 376)"/>
</g>
</g>
<path d="M6.25 376.2 H482 M6.25 416.6 H482" fill="none" stroke="#c0ec58" stroke-width="1.9" stroke-dasharray="4.2 7.8" stroke-dashoffset="-3.4"/>
<path d="M7.05 376.2 V416.6" fill="none" stroke="#c0ec58" stroke-width="2" stroke-dasharray="4 6"/>
<path d="M481 382.2 V416.6" fill="none" stroke="#c0ec58" stroke-width="2" stroke-dasharray="4 6"/>
<path d="M108 376.2 H482" fill="none" stroke="#d862f0" stroke-width="2" stroke-dasharray="5 7" stroke-dashoffset="8.75"/>
<path d="M108 359.4 H482" fill="none" stroke="#ff8a3c" stroke-width="2" stroke-dasharray="5 7.1"/>
<path d="M108 363.9 H482" fill="none" stroke="#ff8a3c" stroke-width="2" stroke-dasharray="5 7.1" stroke-dashoffset="-1.5"/>
<path d="M481 358.4 V365.4" fill="none" stroke="#ff8a3c" stroke-width="2"/>
</g>
<rect x="485.4" y="338.5" width="13.4" height="109" fill="url(#cb338)"/>
<text x="485.6" y="334.6" font-family='"Liberation Serif", serif' font-size="16" font-weight="normal" fill="#111" text-anchor="start" textLength="31.8" lengthAdjust="spacingAndGlyphs">max</text>
<text x="485.6" y="457.2" font-family='"Liberation Serif", serif' font-size="16" font-weight="normal" fill="#111" text-anchor="start" textLength="29.3" lengthAdjust="spacingAndGlyphs">min</text>
<text x="10.5" y="347.8" font-family='"DejaVu Sans", "Liberation Sans", sans-serif' font-size="19.5" font-weight="bold" fill="#fff" text-anchor="start" >TE</text>
<text x="445.6" y="363.75" font-family='"Liberation Sans", sans-serif' font-size="15" font-weight="bold" fill="#fff" text-anchor="start" >Au</text>
<text x="443.75" y="377.25" font-family='"Liberation Sans", sans-serif' font-size="15" font-weight="bold" fill="#fff" text-anchor="start" >a-Si</text>
<text x="446.9" y="395.6" font-family='"Liberation Sans", sans-serif' font-size="14.6" font-weight="bold" fill="#fff" text-anchor="start" >LN</text>
<text x="445.5" y="445.3" font-family='"Liberation Sans", sans-serif' font-size="15" font-weight="bold" fill="#fff">SiO<tspan dy="3" font-size="10">2</tspan></text>
<rect x="358" y="432" width="42" height="8.2" fill="#fff"/>
<text x="379.7" y="456" font-family='"DejaVu Sans", "Liberation Sans", sans-serif' font-size="17" font-weight="bold" fill="#fff" text-anchor="middle" >300nm</text>
<g clip-path="url(#cph)"><g filter="url(#jet)">
<rect x="6.75" y="484" width="478.25" height="138" fill="#000"/>
<rect x="0" y="515" width="520" height="80" fill="url(#hhin)"/>
<rect x="0" y="486" width="520" height="134" fill="url(#hhat)"/>
<rect x="90" y="529" width="400" height="24" fill="url(#hhtv)" mask="url(#mh)"/>
<rect x="90" y="530" width="400" height="26" fill="url(#hhtv2)" mask="url(#mh2)"/>
<rect x="90" y="557" width="400" height="24" fill="url(#hhbv)" mask="url(#mh)"/>
<ellipse cx="0" cy="0" rx="70" ry="5.5" fill="url(#hk1)" transform="translate(55 554)"/>
<ellipse cx="0" cy="0" rx="14" ry="7.5" fill="url(#hk0)" transform="translate(103 554.5)"/>
<g style="mix-blend-mode:lighten">
<ellipse cx="0" cy="0" rx="24" ry="6" fill="url(#hr0)" transform="translate(147 555.5)"/>
<ellipse cx="0" cy="0" rx="24" ry="6" fill="url(#hr1)" transform="translate(200 555.5)"/>
<ellipse cx="0" cy="0" rx="24" ry="6" fill="url(#hr2)" transform="translate(250 555.5)"/>
<ellipse cx="0" cy="0" rx="24" ry="6" fill="url(#hr3)" transform="translate(300 555.5)"/>
<ellipse cx="0" cy="0" rx="24" ry="6" fill="url(#hr4)" transform="translate(350 555.5)"/>
</g>
<ellipse cx="0" cy="0" rx="10" ry="6" fill="url(#hd0)" transform="translate(125 535.5)"/>
<ellipse cx="0" cy="0" rx="10" ry="6" fill="url(#hd1)" transform="translate(150.2 535.5)"/>
<ellipse cx="0" cy="0" rx="10" ry="6" fill="url(#hd2)" transform="translate(175.4 535.5)"/>
<ellipse cx="0" cy="0" rx="10" ry="6" fill="url(#hd3)" transform="translate(200.6 535.5)"/>
<ellipse cx="0" cy="0" rx="10" ry="6" fill="url(#hd4)" transform="translate(225.8 535.5)"/>
<ellipse cx="0" cy="0" rx="10" ry="6" fill="url(#hd5)" transform="translate(251 535.5)"/>
<ellipse cx="0" cy="0" rx="10" ry="6" fill="url(#hd6)" transform="translate(276.2 535.5)"/>
<ellipse cx="0" cy="0" rx="10" ry="6" fill="url(#hd7)" transform="translate(301.4 535.5)"/>
<ellipse cx="0" cy="0" rx="10" ry="6" fill="url(#hd8)" transform="translate(326.6 535.5)"/>
<ellipse cx="0" cy="0" rx="10" ry="6" fill="url(#hd9)" transform="translate(351.8 535.5)"/>
<ellipse cx="0" cy="0" rx="10" ry="6" fill="url(#hd10)" transform="translate(377 535.5)"/>
<ellipse cx="0" cy="0" rx="10" ry="6" fill="url(#hd11)" transform="translate(402.2 535.5)"/>
<ellipse cx="0" cy="0" rx="10" ry="6" fill="url(#hd12)" transform="translate(427.4 535.5)"/>
<ellipse cx="0" cy="0" rx="10" ry="6" fill="url(#hd13)" transform="translate(452.6 535.5)"/>
<ellipse cx="0" cy="0" rx="10" ry="6" fill="url(#hd14)" transform="translate(477.8 535.5)"/>
<ellipse cx="0" cy="0" rx="13.5" ry="11.5" fill="url(#hb0)" transform="translate(112.5 527.5)"/>
<ellipse cx="0" cy="0" rx="13.5" ry="11.5" fill="url(#hb1)" transform="translate(137.7 527.5)"/>
<ellipse cx="0" cy="0" rx="13.5" ry="11.5" fill="url(#hb2)" transform="translate(162.9 527.5)"/>
<ellipse cx="0" cy="0" rx="13.5" ry="11.5" fill="url(#hb3)" transform="translate(188.1 527.5)"/>
<ellipse cx="0" cy="0" rx="13.5" ry="11.5" fill="url(#hb4)" transform="translate(213.3 527.5)"/>
<ellipse cx="0" cy="0" rx="13.5" ry="11.5" fill="url(#hb5)" transform="translate(238.5 527.5)"/>
<ellipse cx="0" cy="0" rx="13.5" ry="11.5" fill="url(#hb6)" transform="translate(263.7 527.5)"/>
<ellipse cx="0" cy="0" rx="13.5" ry="11.5" fill="url(#hb7)" transform="translate(288.9 527.5)"/>
<ellipse cx="0" cy="0" rx="13.5" ry="11.5" fill="url(#hb8)" transform="translate(314.1 527.5)"/>
<ellipse cx="0" cy="0" rx="13.5" ry="11.5" fill="url(#hb9)" transform="translate(339.3 527.5)"/>
<ellipse cx="0" cy="0" rx="13.5" ry="11.5" fill="url(#hb10)" transform="translate(364.5 527.5)"/>
<ellipse cx="0" cy="0" rx="13.5" ry="11.5" fill="url(#hb11)" transform="translate(389.7 527.5)"/>
<ellipse cx="0" cy="0" rx="13.5" ry="11.5" fill="url(#hb12)" transform="translate(414.9 527.5)"/>
<ellipse cx="0" cy="0" rx="13.5" ry="11.5" fill="url(#hb13)" transform="translate(440.1 527.5)"/>
<ellipse cx="0" cy="0" rx="13.5" ry="11.5" fill="url(#hb14)" transform="translate(465.3 527.5)"/>
</g>
<path d="M8.75 534.5 H482.5 M8.75 575.3 H482.5" fill="none" stroke="#c0ec58" stroke-width="1.9" stroke-dasharray="4.2 7.8" stroke-dashoffset="-3.4"/>
<path d="M9.55 534.5 V575.3" fill="none" stroke="#c0ec58" stroke-width="2" stroke-dasharray="4 6"/>
<path d="M481.5 540.5 V575.3" fill="none" stroke="#c0ec58" stroke-width="2" stroke-dasharray="4 6"/>
<path d="M108 534.5 H482.5" fill="none" stroke="#d862f0" stroke-width="2" stroke-dasharray="5 7" stroke-dashoffset="6.25"/>
<path d="M108 518.1 H482.5" fill="none" stroke="#ff8a3c" stroke-width="2" stroke-dasharray="5 7.1"/>
<path d="M108 522.4 H482.5" fill="none" stroke="#ff8a3c" stroke-width="2" stroke-dasharray="5 7.1" stroke-dashoffset="-1.5"/>
<path d="M481.5 517.1 V523.9" fill="none" stroke="#ff8a3c" stroke-width="2"/>
</g>
<rect x="486" y="497.7" width="13.4" height="109.3" fill="url(#cb497)"/>
<text x="485.6" y="493.5" font-family='"Liberation Serif", serif' font-size="16" font-weight="normal" fill="#111" text-anchor="start" textLength="31.8" lengthAdjust="spacingAndGlyphs">max</text>
<text x="485.6" y="616.3" font-family='"Liberation Serif", serif' font-size="16" font-weight="normal" fill="#111" text-anchor="start" textLength="29.3" lengthAdjust="spacingAndGlyphs">min</text>
<text x="11" y="505.7" font-family='"DejaVu Sans", "Liberation Sans", sans-serif' font-size="19.2" font-weight="bold" fill="#fff" text-anchor="start" >TM</text>
<text x="445.6" y="522.1" font-family='"Liberation Sans", sans-serif' font-size="15" font-weight="bold" fill="#fff" text-anchor="start" >Au</text>
<text x="443.75" y="535.4" font-family='"Liberation Sans", sans-serif' font-size="15" font-weight="bold" fill="#fff" text-anchor="start" >a-Si</text>
<text x="446.9" y="554.7" font-family='"Liberation Sans", sans-serif' font-size="14.6" font-weight="bold" fill="#fff" text-anchor="start" >LN</text>
<text x="445.5" y="603.8" font-family='"Liberation Sans", sans-serif' font-size="15" font-weight="bold" fill="#fff">SiO<tspan dy="3" font-size="10">2</tspan></text>
<rect x="357.5" y="592.3" width="41.7" height="8.2" fill="#fff"/>
<text x="379.7" y="618" font-family='"DejaVu Sans", "Liberation Sans", sans-serif' font-size="17" font-weight="bold" fill="#fff" text-anchor="middle" >300nm</text>
</svg>
</body></html>
